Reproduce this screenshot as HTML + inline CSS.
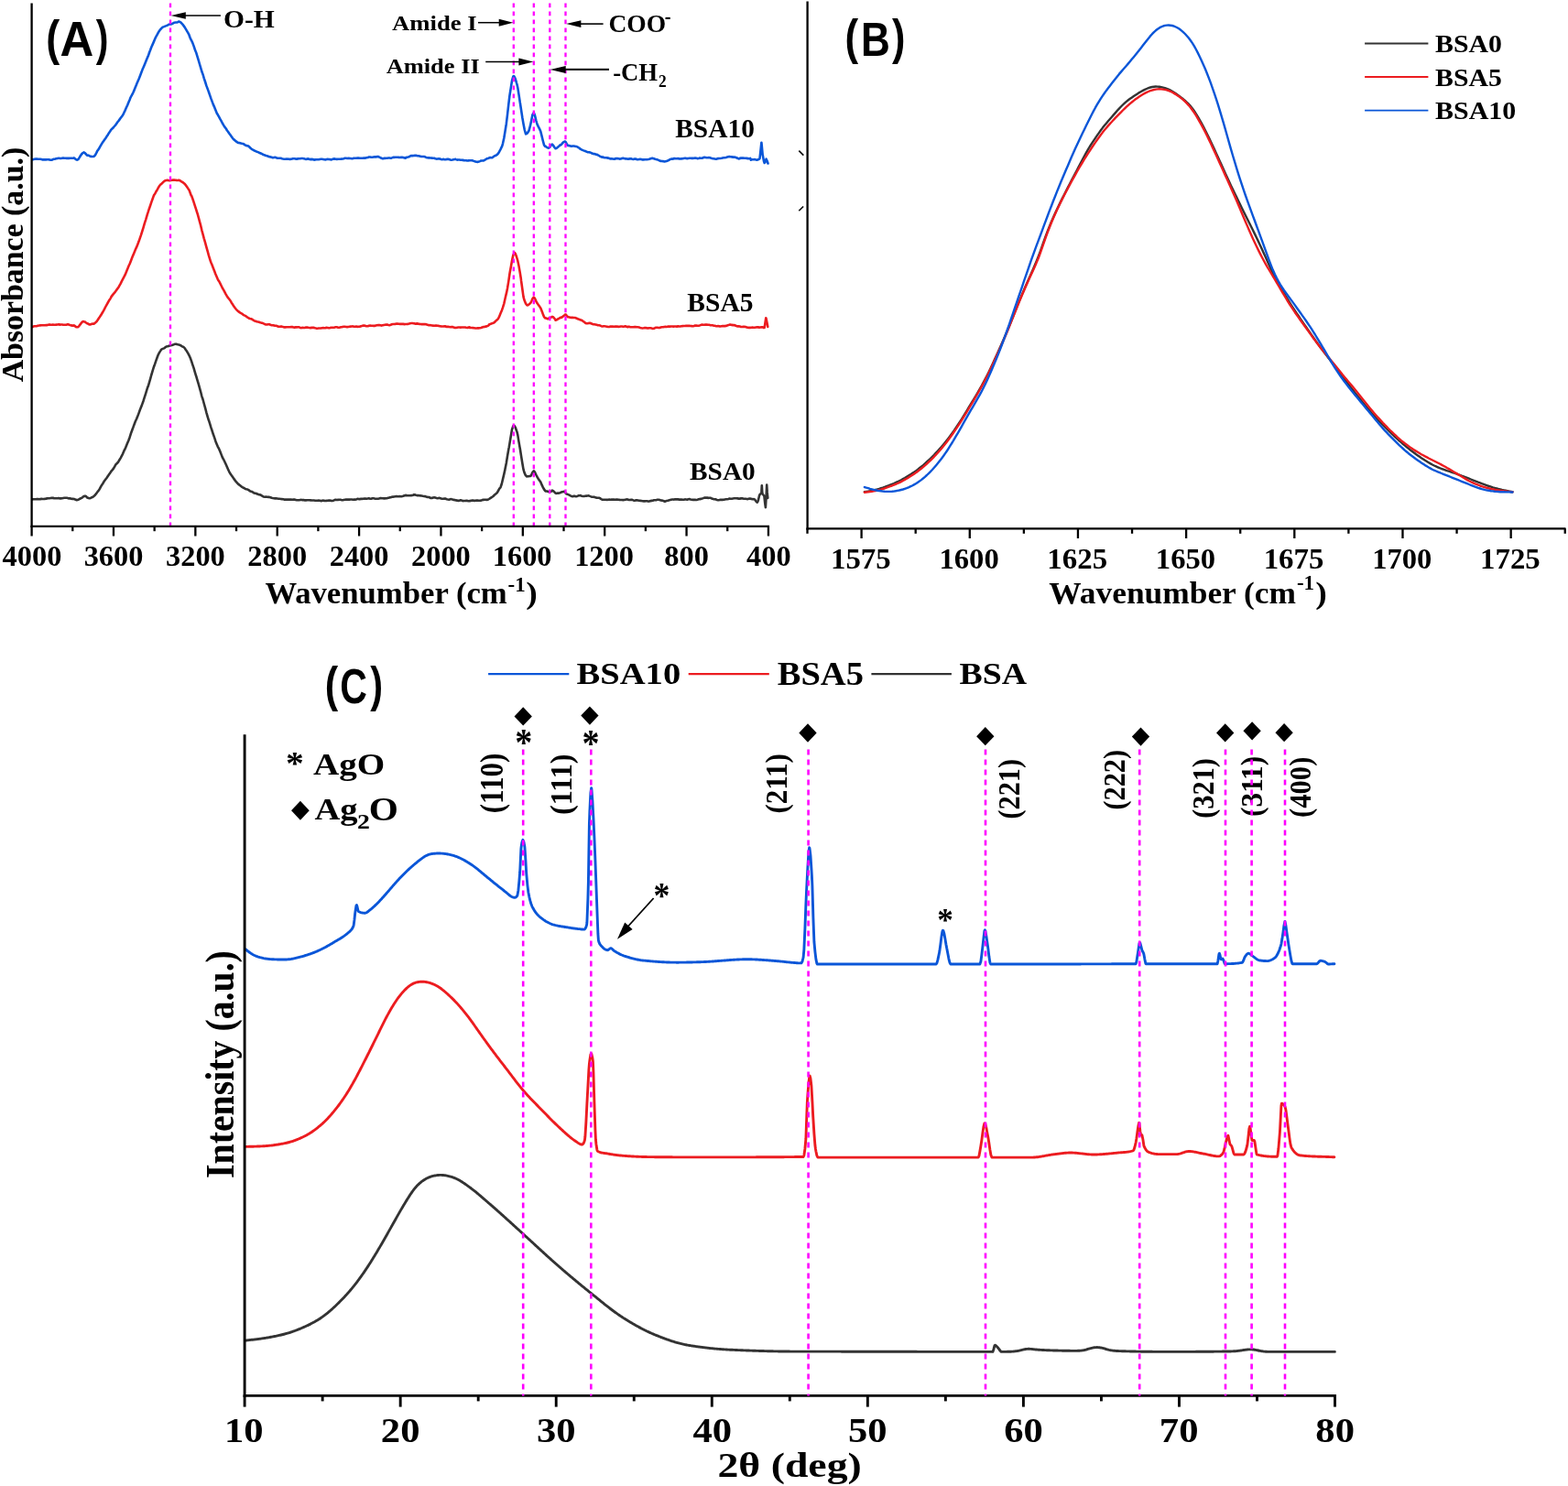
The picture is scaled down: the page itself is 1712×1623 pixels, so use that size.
<!DOCTYPE html>
<html><head><meta charset="utf-8"><title>FTIR and XRD</title>
<style>html,body{margin:0;padding:0;background:#fff;}svg{display:block;}</style></head><body>
<svg width="1712" height="1623" viewBox="0 0 1712 1623">
<rect width="1712" height="1623" fill="#fff"/>
<path d="M35.3,545.4 36.5,545.3 37.8,545.2 39.0,545.2 40.3,545.0 41.5,545.1 42.8,545.3 44.0,545.1 45.3,544.9 46.5,545.0 47.8,545.0 49.0,544.9 50.3,544.6 51.5,544.4 52.8,544.3 54.0,544.2 55.3,544.0 56.5,543.8 57.8,543.9 59.0,544.1 60.3,544.2 61.5,544.2 62.8,544.2 64.0,544.0 65.0,544.2 65.3,544.4 66.5,544.4 67.8,544.2 69.0,544.0 70.3,543.8 71.5,543.8 72.8,543.8 74.0,544.1 75.3,544.4 76.5,544.3 77.8,544.7 79.0,544.9 80.3,544.9 80.8,545.0 81.5,545.3 82.8,545.9 84.0,546.1 84.3,545.9 85.3,545.7 86.5,545.2 87.8,544.5 89.0,543.9 90.3,543.1 91.5,542.1 92.8,541.7 93.1,541.7 94.0,542.2 95.3,543.6 96.5,544.0 96.6,543.9 97.8,544.2 99.0,543.9 100.3,543.2 101.5,542.7 101.8,542.5 102.8,541.7 104.0,540.5 105.3,538.9 106.5,537.1 107.1,536.4 107.8,535.7 109.0,533.6 110.3,531.1 111.5,529.2 112.4,528.0 112.8,527.1 114.0,525.2 115.3,523.5 116.5,522.0 117.8,520.1 119.0,518.2 120.3,516.4 121.1,515.3 121.5,514.6 122.8,513.1 124.0,511.6 125.3,509.3 126.5,507.2 127.8,506.0 129.1,504.6 129.9,503.2 130.3,502.5 131.6,500.3 132.8,498.1 134.1,495.6 135.3,492.7 136.6,490.1 136.9,489.6 137.8,487.3 139.1,484.1 140.3,481.2 141.6,477.7 142.8,473.8 144.1,470.3 145.3,467.0 145.6,466.1 146.6,463.5 147.8,460.3 149.1,457.5 150.3,454.6 151.6,451.1 152.8,447.7 154.1,444.6 154.4,443.8 155.3,441.4 156.6,437.7 157.8,433.8 159.1,429.8 160.3,425.9 161.4,422.4 161.6,422.3 162.8,418.4 164.1,413.9 165.3,409.5 166.6,405.2 167.8,401.2 168.4,399.5 169.1,397.7 170.3,394.1 171.6,390.5 172.8,387.3 174.1,384.9 175.3,383.1 175.4,382.6 176.6,381.4 177.8,380.9 179.1,380.4 180.3,379.4 181.6,378.6 182.8,378.3 184.1,377.9 184.2,377.9 185.3,377.6 186.6,377.3 187.8,377.0 189.1,376.6 190.3,376.1 191.6,375.8 192.8,375.8 193.0,376.0 194.1,376.3 195.3,376.5 196.6,376.9 197.8,377.6 199.1,378.5 200.0,378.8 200.3,378.9 201.6,380.1 202.8,382.0 204.1,383.8 205.3,385.9 206.6,388.3 207.0,389.2 207.8,391.0 209.1,394.6 210.3,398.3 211.6,402.1 212.8,406.3 214.0,410.3 214.1,410.4 215.3,414.6 216.6,418.9 217.8,423.1 219.1,427.8 220.3,432.6 221.0,434.8 221.6,436.5 222.8,441.0 224.1,445.6 225.3,450.3 226.6,454.8 227.8,458.8 228.0,459.2 229.1,462.7 230.3,466.7 231.6,470.5 232.8,474.3 234.1,477.9 235.0,480.6 235.3,481.7 236.6,484.9 237.8,487.8 239.1,490.2 240.3,493.0 241.6,496.4 242.8,499.4 243.8,501.4 244.1,501.7 245.3,504.2 246.6,507.0 247.8,509.8 249.1,512.7 250.3,515.3 251.6,517.5 252.5,518.9 252.8,519.2 254.1,521.0 255.3,522.9 256.6,524.6 257.8,526.2 259.1,527.6 260.3,528.9 261.3,529.6 261.6,529.7 262.8,530.7 264.1,531.8 265.3,532.5 266.6,533.2 267.8,533.9 269.1,534.3 270.3,534.6 271.6,535.2 272.8,536.2 274.1,536.7 275.3,537.1 276.6,538.0 277.8,538.6 279.1,538.7 280.3,539.2 281.6,539.8 282.8,540.2 284.1,540.4 285.3,541.0 286.6,541.9 287.8,542.5 289.1,542.7 290.3,542.6 291.6,542.8 292.8,542.9 294.1,542.9 295.3,543.2 296.6,543.7 297.8,544.0 299.1,544.2 300.3,544.4 301.6,544.4 302.8,544.5 304.1,544.7 305.3,544.8 306.6,545.0 307.8,545.1 309.1,545.2 310.3,545.5 310.4,545.6 311.6,545.5 312.8,545.6 314.1,545.6 315.3,545.6 316.6,545.6 317.8,545.6 319.1,545.7 320.3,545.6 321.6,545.6 322.8,545.9 324.1,546.2 325.3,546.3 326.6,546.2 327.8,546.0 329.1,545.9 330.0,546.1 330.3,546.1 331.6,546.1 332.8,546.4 334.1,546.4 335.3,546.3 336.6,546.3 337.8,546.3 339.1,546.4 340.3,546.5 341.6,546.5 342.8,546.5 344.1,546.7 345.3,546.8 346.3,546.8 346.6,546.7 347.8,546.6 349.1,546.8 350.3,547.1 351.6,546.9 352.8,546.6 354.1,546.9 355.3,547.0 356.6,546.9 357.8,546.8 359.1,546.5 360.3,546.6 361.6,546.9 362.8,547.0 364.1,546.7 365.3,546.1 366.6,545.8 367.8,546.0 369.1,545.9 370.3,545.8 371.6,545.8 372.8,546.1 374.1,546.2 375.3,546.0 376.6,545.8 377.8,545.6 379.1,545.6 380.3,545.6 381.6,545.6 382.8,545.5 384.1,545.5 385.3,545.7 386.6,545.6 387.8,545.6 389.1,545.5 390.1,544.9 390.3,544.8 391.6,545.1 392.8,545.1 394.1,544.9 395.3,544.9 396.6,544.8 397.8,544.6 399.1,544.6 400.3,544.7 401.6,544.5 402.8,544.3 404.1,544.7 405.3,544.7 406.6,544.2 407.8,544.3 409.1,544.6 410.3,544.7 411.6,544.7 412.8,544.7 414.1,544.4 415.3,544.1 416.4,544.1 416.6,544.3 417.8,544.3 419.1,544.4 420.3,544.4 421.6,544.3 422.8,544.1 424.1,543.7 425.3,543.4 426.6,543.2 427.8,542.8 429.1,542.6 430.3,542.5 431.6,542.2 432.8,542.1 434.1,542.3 435.3,542.2 436.6,542.1 437.8,542.2 439.1,542.1 440.3,541.8 441.6,541.2 442.8,540.9 444.1,541.1 445.3,541.2 446.6,541.2 447.8,541.2 449.1,541.1 450.3,541.0 451.4,540.8 451.6,540.4 452.8,540.2 454.1,540.7 455.3,541.1 456.6,541.0 457.8,541.3 459.1,541.4 460.3,541.5 461.6,541.8 462.8,542.0 464.1,542.1 465.3,542.5 466.6,542.9 467.8,543.0 468.9,543.1 469.1,543.5 470.3,544.0 471.6,543.9 472.8,543.5 474.1,543.4 475.3,543.5 476.6,543.9 477.8,544.2 479.1,543.9 480.3,544.0 481.6,544.5 482.8,544.8 484.1,544.7 485.3,544.6 486.5,544.5 486.6,544.7 487.8,545.2 489.1,545.5 490.3,545.7 491.6,545.3 492.8,545.1 494.1,545.6 495.3,545.9 496.6,546.1 497.8,546.4 499.1,546.6 500.3,546.9 501.6,546.7 502.8,546.3 504.1,546.6 505.3,547.1 506.6,547.0 507.8,547.0 509.1,546.9 510.3,546.9 511.6,547.3 512.7,547.3 512.8,547.1 514.0,546.9 515.3,546.6 516.5,546.6 517.8,546.9 519.0,546.7 520.3,546.5 521.5,546.6 522.8,546.7 524.0,546.8 525.3,546.6 526.5,546.1 527.8,545.9 529.0,545.8 530.3,545.8 531.5,545.9 532.8,545.7 534.0,545.0 535.3,544.1 536.5,543.3 537.8,542.5 539.0,541.6 539.0,541.4 540.3,540.2 541.5,539.3 542.8,538.1 544.0,536.0 545.3,533.7 546.0,532.9 546.5,532.2 547.8,528.5 549.0,523.4 550.3,517.9 551.3,513.4 551.5,512.3 552.8,505.7 554.0,498.2 555.3,490.8 555.7,488.8 556.5,484.1 557.8,476.2 559.0,469.2 560.3,465.4 560.9,465.0 561.5,464.9 562.8,467.0 564.0,470.5 564.4,471.4 565.3,475.1 566.5,482.6 567.8,490.1 567.9,490.5 569.0,497.6 570.3,505.8 571.5,512.7 572.3,515.5 572.8,516.9 574.0,519.3 575.3,520.4 575.8,520.3 576.5,520.3 577.8,520.1 579.0,519.8 579.3,519.9 580.3,518.6 581.5,515.8 582.8,514.3 584.0,515.7 585.3,518.5 586.3,520.4 586.5,520.9 587.8,523.0 589.0,524.7 590.3,526.6 590.7,527.5 591.5,529.4 592.8,532.1 594.0,534.4 595.3,536.1 596.0,536.5 596.5,536.5 597.8,536.6 599.0,537.1 600.3,537.2 600.4,537.0 601.5,536.8 602.8,536.1 603.0,535.7 604.0,536.1 605.3,537.4 606.5,538.6 607.4,538.9 607.8,538.7 609.0,538.6 610.3,538.6 611.5,538.2 612.8,537.6 614.0,537.2 615.3,536.9 616.1,536.7 616.5,537.1 617.8,538.8 618.6,539.5 619.0,539.6 620.3,540.1 621.5,540.6 622.8,541.3 624.0,541.9 625.3,542.2 625.8,542.0 626.5,541.7 627.8,541.9 629.0,542.2 630.3,541.9 631.5,541.4 632.8,541.2 634.0,541.1 634.3,541.4 635.3,541.7 636.5,542.0 637.8,542.0 639.0,541.8 640.3,541.6 641.5,541.5 642.8,541.4 644.0,541.9 645.3,542.4 646.5,542.7 647.8,542.7 649.0,542.9 650.1,543.3 650.3,543.4 651.5,543.6 652.8,543.7 654.0,543.8 655.3,544.3 656.5,545.1 657.8,545.8 659.0,545.8 660.1,545.8 660.3,545.8 661.5,545.8 662.8,545.9 664.0,545.8 665.3,545.6 666.5,545.7 667.8,545.6 669.0,545.5 670.3,545.6 671.5,545.7 672.8,545.6 674.0,545.6 675.3,545.7 676.5,545.9 677.8,546.0 679.0,546.0 680.3,546.1 681.5,546.0 682.8,545.7 684.0,545.4 685.3,545.5 685.9,545.8 686.5,545.9 687.8,546.0 689.0,545.9 690.3,545.9 691.5,546.4 692.8,546.7 694.0,546.4 695.3,546.2 696.5,546.5 697.8,546.8 699.0,546.9 700.3,547.0 701.5,547.3 702.8,547.4 704.0,547.4 705.3,547.3 706.5,547.3 707.3,547.5 707.8,547.6 709.0,547.5 710.3,547.1 711.5,546.9 712.8,546.7 714.0,546.3 715.3,546.2 716.5,546.1 717.3,546.0 717.8,545.7 719.0,545.8 720.3,546.1 721.5,546.5 722.8,546.6 724.0,546.9 725.3,547.5 725.9,547.8 726.5,547.5 727.8,547.1 729.0,546.8 730.3,546.4 731.5,546.1 732.8,545.7 734.0,545.5 735.3,545.5 735.9,545.6 736.5,545.4 737.8,545.4 739.0,545.4 740.3,545.4 741.5,545.6 742.8,545.6 744.0,545.6 745.3,545.8 746.5,545.7 747.8,545.4 749.0,545.5 750.3,545.7 751.5,545.3 752.8,545.1 754.0,545.5 755.3,545.8 756.5,545.9 757.4,545.9 757.8,545.9 759.0,545.9 760.3,546.0 761.5,545.7 762.8,545.3 764.0,545.1 765.3,544.9 766.5,544.6 767.8,544.1 769.0,543.6 770.3,543.6 771.5,543.6 772.8,543.6 773.2,543.9 774.0,543.8 775.3,543.7 776.5,544.1 777.8,544.8 779.0,545.1 780.3,545.2 781.5,545.4 782.8,546.0 784.0,546.2 785.3,546.1 786.0,545.9 786.5,545.8 787.8,545.9 789.0,545.9 790.3,545.8 791.5,545.5 792.8,545.3 794.0,545.2 795.3,545.0 796.5,544.6 797.8,544.7 799.0,544.7 800.3,544.5 801.5,544.3 802.8,544.3 804.0,544.3 805.3,544.4 806.5,544.6 807.8,544.6 809.0,544.4 810.3,544.3 811.5,544.6 812.8,544.7 814.0,544.7 815.3,545.0 816.5,545.1 817.8,544.6 819.0,544.5 820.3,544.9 821.5,545.1 822.8,545.2 823.2,545.0 824.0,545.5 825.3,547.3 826.5,548.6 826.9,548.6 827.8,546.7 829.0,541.5 829.5,540.3 830.3,539.6 831.4,538.3 831.5,535.6 831.8,530.2 832.3,538.2 832.8,539.7 834.0,541.2 834.4,541.8 835.3,550.0 835.9,554.2 836.5,543.8 836.7,540.5 837.2,529.6 837.7,537.9 837.8,539.1 838.3,543.9" fill="none" stroke="#333333" stroke-width="2.6" stroke-linejoin="round" stroke-linecap="round"/>
<path d="M35.3,357.1 36.5,356.5 37.8,356.3 39.0,356.3 40.3,356.1 41.5,355.7 42.8,355.5 44.0,355.4 45.3,355.3 46.5,355.2 47.8,355.2 49.0,355.2 50.3,355.1 51.5,355.1 52.8,354.7 54.0,354.4 55.3,354.8 56.5,354.8 57.8,354.6 59.0,354.7 60.3,354.8 61.5,354.6 62.8,354.5 64.0,354.4 65.0,354.4 65.3,354.6 66.5,354.5 67.8,354.5 69.0,354.7 70.3,354.7 71.5,354.8 72.8,354.6 74.0,354.2 75.3,354.6 76.5,355.1 77.8,355.4 79.0,355.6 80.3,355.6 80.8,355.4 81.5,355.8 82.8,357.0 83.4,357.1 84.0,357.2 85.3,357.1 86.5,355.8 87.8,354.1 89.0,352.5 90.3,351.3 91.3,351.1 91.5,351.2 92.8,351.6 94.0,352.5 95.3,353.3 96.5,353.8 96.6,354.0 97.8,354.4 99.0,354.4 100.3,353.8 101.5,353.5 101.8,353.7 102.8,353.6 104.0,352.6 105.3,351.4 106.5,349.8 107.8,347.8 108.9,346.1 109.0,346.0 110.3,344.1 111.5,342.0 112.8,339.8 114.0,337.7 114.1,337.3 115.3,335.0 116.5,332.8 117.8,330.5 119.0,328.3 120.3,326.4 121.1,325.1 121.5,324.1 122.8,322.4 124.0,320.9 125.3,319.4 126.5,317.8 127.8,315.9 129.1,314.2 129.9,312.9 130.3,312.1 131.6,309.9 132.8,307.4 134.1,304.9 135.3,302.6 136.6,300.2 136.9,299.4 137.8,297.2 139.1,294.1 140.3,291.0 141.6,288.3 142.8,285.2 144.1,281.8 145.3,278.8 145.6,278.2 146.6,275.7 147.8,272.7 149.1,269.9 150.3,266.9 151.6,263.6 152.8,260.1 154.1,256.4 154.4,255.3 155.3,252.5 156.6,248.3 157.8,244.1 159.1,240.1 160.3,236.1 161.4,232.4 161.6,231.9 162.8,228.2 164.1,224.5 165.3,220.9 166.6,217.3 167.8,213.9 168.4,212.7 169.1,211.8 170.3,209.5 171.6,207.3 172.8,205.1 174.1,203.0 175.3,201.5 175.4,201.6 176.6,200.5 177.8,199.3 179.1,198.1 180.3,197.2 181.6,196.9 182.4,196.7 182.8,196.8 184.1,197.1 185.3,197.2 186.6,197.0 187.8,196.8 189.1,196.6 190.3,196.6 191.6,196.7 192.8,196.9 194.1,197.0 194.7,196.9 195.3,196.7 196.6,197.2 197.8,198.1 199.1,198.9 200.3,199.7 201.6,200.8 201.7,201.0 202.8,202.2 204.1,204.1 205.3,205.9 206.6,207.8 207.8,211.0 208.7,213.5 209.1,213.8 210.3,217.0 211.6,220.8 212.8,224.7 214.1,228.7 215.3,232.5 215.7,233.7 216.6,236.8 217.8,241.3 219.1,246.1 220.3,251.3 221.6,256.2 222.7,260.3 222.8,260.6 224.1,265.2 225.3,269.7 226.6,274.2 227.8,278.7 229.1,282.8 229.8,285.0 230.3,286.4 231.6,289.5 232.8,292.7 234.1,296.0 235.3,299.2 236.6,302.2 237.8,305.1 238.5,306.4 239.1,307.0 240.3,309.4 241.6,312.0 242.8,314.5 244.1,316.6 245.3,318.9 246.6,321.3 247.8,323.4 249.0,325.3 249.1,325.3 250.3,326.8 251.6,328.5 252.8,330.7 254.1,332.6 255.3,334.5 256.6,336.3 257.8,337.8 259.1,339.1 259.5,339.5 260.3,340.1 261.6,341.1 262.8,341.9 264.1,342.6 265.3,343.6 266.6,344.4 267.8,344.9 269.1,345.8 270.3,346.7 271.6,347.5 272.8,348.0 274.1,348.2 275.3,348.7 276.6,349.7 277.8,350.4 279.1,350.7 280.3,351.2 281.6,351.5 282.8,351.8 284.1,352.3 285.3,352.6 286.6,352.8 287.8,353.4 289.1,354.0 290.3,354.5 291.6,354.5 292.8,354.2 294.1,354.3 295.3,354.8 296.6,355.2 297.8,355.2 299.1,355.4 300.3,355.7 301.6,355.8 302.8,356.2 304.1,356.7 305.3,356.7 306.6,356.6 307.8,356.6 309.1,357.1 310.3,357.4 310.4,357.4 311.6,357.4 312.8,357.2 314.1,357.2 315.3,357.3 316.6,357.2 317.8,357.1 319.1,357.1 320.3,357.5 321.6,357.6 322.8,357.4 324.1,357.4 325.3,357.2 326.6,357.3 327.8,358.0 329.1,358.1 330.0,357.9 330.3,357.8 331.6,358.0 332.8,358.0 334.1,357.6 335.3,357.5 336.6,357.8 337.8,358.0 339.1,358.1 340.3,357.9 341.6,357.7 342.8,357.9 344.1,358.3 345.3,358.6 346.3,358.7 346.6,358.7 347.8,358.5 349.1,358.5 350.3,358.5 351.6,358.2 352.8,358.1 354.1,358.2 355.3,358.1 356.6,357.9 357.8,358.0 359.1,358.3 360.3,358.1 361.6,357.8 362.8,357.8 364.1,357.8 365.3,357.6 366.6,357.3 367.8,357.3 369.1,357.7 370.3,357.7 371.6,357.4 372.8,357.3 374.1,357.0 375.3,356.7 376.6,356.8 377.8,357.0 379.1,357.1 380.3,357.0 381.6,356.8 382.8,356.6 384.1,356.5 385.3,356.4 386.6,356.7 387.8,356.8 389.1,356.5 390.1,356.7 390.3,356.9 391.6,356.7 392.8,356.6 394.1,356.4 395.3,355.9 396.6,355.6 397.8,355.5 399.1,355.9 400.3,356.3 401.6,356.2 402.8,355.7 404.1,355.6 405.3,355.8 406.6,355.7 407.8,355.9 409.1,355.9 410.3,355.5 411.6,355.2 412.8,355.1 414.1,355.0 415.3,355.3 416.4,355.6 416.6,355.6 417.8,355.3 419.1,355.0 420.3,354.8 421.6,354.6 422.8,354.6 424.1,355.0 425.3,355.2 426.6,354.8 427.8,354.3 429.1,354.0 430.3,354.0 431.6,353.9 432.8,353.6 434.1,353.6 435.3,353.8 436.6,353.9 437.8,353.9 439.1,353.8 440.3,353.9 441.6,354.1 442.8,354.0 444.1,354.0 445.3,353.9 446.6,353.6 447.8,353.2 449.1,353.0 450.3,353.0 451.6,353.3 452.8,353.4 453.2,353.6 454.1,353.6 455.3,353.4 456.6,353.6 457.8,353.9 459.1,354.0 460.3,354.1 461.6,354.1 462.8,354.0 464.1,354.1 465.3,354.3 466.6,354.7 467.8,355.1 468.9,355.2 469.1,355.0 470.3,355.2 471.6,355.5 472.8,355.6 474.1,355.7 475.3,355.6 476.6,355.5 477.8,355.7 479.1,355.9 480.3,356.2 481.6,356.4 482.8,356.5 484.1,356.5 485.3,356.4 486.5,356.4 486.6,356.7 487.8,356.9 489.1,356.8 490.3,357.0 491.6,357.2 492.8,357.1 494.1,357.1 495.3,357.5 496.6,357.9 497.8,358.0 499.1,357.7 500.3,357.5 501.6,357.5 502.8,357.6 504.1,357.5 505.3,357.5 506.6,357.5 507.8,357.5 509.1,357.8 510.3,358.0 511.6,357.5 512.7,357.4 512.8,357.9 514.0,358.0 515.3,358.0 516.5,358.1 517.8,358.3 519.0,358.5 520.3,358.5 521.5,358.4 522.8,358.4 523.3,358.3 524.0,358.2 525.3,358.0 526.5,357.5 527.8,357.1 529.0,357.0 530.3,356.6 531.5,356.4 532.8,355.9 533.8,355.0 534.0,354.5 535.3,353.9 536.5,353.5 537.8,353.1 539.0,352.6 540.3,351.6 541.5,350.3 542.5,349.3 542.8,349.4 544.0,348.0 545.3,345.4 546.5,342.3 547.8,339.2 549.0,335.9 550.3,331.6 551.5,326.3 552.8,320.6 553.0,320.0 554.0,315.0 555.3,307.1 556.5,298.8 557.4,293.8 557.8,291.7 559.0,284.8 560.3,278.7 561.5,275.9 561.5,275.7 562.8,277.1 564.0,280.5 565.3,284.9 566.5,290.6 567.8,298.0 568.8,304.3 569.0,306.2 570.3,315.5 571.5,324.1 572.3,327.2 572.8,328.5 574.0,331.5 575.3,333.2 575.8,333.4 576.5,333.2 577.8,332.3 579.0,331.1 579.3,330.8 580.3,329.1 581.5,326.2 582.8,324.7 584.0,326.0 585.3,328.9 586.3,330.9 586.5,331.1 587.8,332.9 589.0,334.6 589.8,335.8 590.3,336.6 591.5,339.5 592.8,343.0 594.0,346.0 595.1,347.3 595.3,347.2 596.5,347.6 597.8,348.2 598.6,348.1 599.0,347.8 600.3,347.2 601.5,346.6 602.8,346.2 603.0,345.9 604.0,346.2 605.3,347.8 606.5,349.3 606.5,349.8 607.8,349.3 609.0,348.5 610.3,347.8 611.5,347.0 612.6,346.6 612.8,347.0 614.0,346.2 615.3,345.1 616.5,344.2 617.0,343.5 617.8,343.6 619.0,345.3 620.0,346.2 620.3,346.1 621.5,346.4 622.8,346.7 624.0,346.9 625.3,346.9 626.5,347.0 627.8,347.0 628.6,347.2 629.0,347.5 630.3,348.0 631.5,348.6 632.8,349.0 634.0,349.4 634.3,349.5 635.3,349.9 636.5,350.8 637.8,351.7 638.6,352.2 639.0,352.7 640.3,353.2 641.5,353.2 642.8,352.9 644.0,352.9 645.3,353.1 646.5,353.8 647.8,354.2 649.0,354.3 650.1,354.5 650.3,354.5 651.5,354.8 652.8,355.2 654.0,355.3 655.3,355.6 656.5,356.2 657.8,356.5 659.0,356.2 660.1,356.2 660.3,356.3 661.5,356.5 662.8,356.7 664.0,357.0 665.3,357.0 666.5,356.6 667.8,356.5 669.0,356.6 670.3,356.7 671.5,356.6 672.8,356.6 674.0,356.6 675.3,356.9 676.5,356.8 677.8,356.5 679.0,356.5 680.3,356.8 681.5,356.6 682.8,356.3 684.0,356.8 685.3,357.2 685.9,356.8 686.5,356.7 687.8,357.1 689.0,357.2 690.3,357.3 691.5,357.3 692.8,357.1 694.0,357.1 695.3,357.2 696.5,357.3 697.8,357.5 699.0,357.9 700.3,358.3 701.5,358.5 702.8,358.3 704.0,358.0 705.3,358.1 706.5,358.4 707.3,358.5 707.8,358.4 709.0,358.2 710.3,358.2 711.5,358.6 712.8,359.0 714.0,358.8 715.3,358.1 716.5,357.7 717.8,357.8 719.0,358.0 720.3,358.0 721.5,357.5 722.8,357.3 724.0,357.3 725.3,357.0 726.5,356.8 727.8,357.0 728.8,356.8 729.0,356.6 730.3,356.6 731.5,356.6 732.8,356.5 734.0,356.5 735.3,356.6 736.5,356.5 737.8,356.5 739.0,356.6 740.3,356.4 741.5,356.5 742.8,356.5 744.0,356.3 745.3,356.1 746.5,356.0 747.8,356.0 749.0,355.9 750.3,355.8 751.5,355.9 752.8,355.9 754.0,356.0 755.3,356.1 756.5,356.2 757.4,356.1 757.8,356.0 759.0,355.6 760.3,355.5 761.5,355.7 762.8,355.7 764.0,355.4 765.3,354.9 766.5,354.6 767.8,354.7 769.0,354.8 770.3,354.6 771.5,354.5 772.8,354.8 773.2,354.7 774.0,354.7 775.3,355.1 776.5,355.2 777.8,355.3 779.0,355.6 780.3,355.8 781.5,356.1 782.8,356.2 784.0,356.1 785.3,356.2 786.0,356.5 786.5,356.5 787.8,356.3 789.0,356.1 790.3,356.0 791.5,356.1 792.8,355.9 794.0,355.5 795.3,355.1 796.5,354.6 797.5,354.6 797.8,354.7 799.0,354.9 800.3,355.1 801.5,355.0 802.8,355.5 804.0,356.1 805.3,356.4 806.5,356.3 807.8,356.6 809.0,357.0 810.3,357.0 811.5,356.9 812.8,356.9 814.0,357.0 815.3,357.4 816.5,357.8 817.5,357.9 817.8,357.9 819.0,357.9 820.3,357.7 821.5,357.5 822.8,357.7 824.0,357.8 825.3,357.5 826.5,357.3 827.8,357.4 829.0,357.6 830.3,357.5 831.5,357.2 832.8,357.4 834.0,358.0 834.6,358.0 835.3,353.8 836.3,347.3 836.5,347.7 837.3,351.7 837.8,354.3 838.3,356.9" fill="none" stroke="#ec1c20" stroke-width="2.6" stroke-linejoin="round" stroke-linecap="round"/>
<path d="M35.3,174.2 36.5,174.1 37.8,173.8 39.0,173.6 40.3,173.6 41.5,173.8 42.8,173.7 44.0,173.8 45.3,174.1 46.5,174.4 47.8,174.4 49.0,174.3 50.3,174.4 51.5,174.3 52.8,174.2 54.0,174.4 55.3,174.7 56.5,174.7 57.8,174.1 59.0,173.7 60.3,173.6 61.5,173.3 62.8,173.0 64.0,172.8 65.0,172.8 65.3,173.0 66.5,173.0 67.8,172.7 69.0,172.5 70.3,172.7 71.5,172.8 72.8,172.9 74.0,172.9 75.3,172.9 76.5,172.8 77.8,172.8 79.0,172.7 80.3,172.5 80.8,172.4 81.5,173.0 82.8,174.1 84.0,174.7 84.3,174.7 85.3,174.2 86.5,172.4 87.8,170.3 89.0,168.5 90.3,167.1 91.3,166.6 91.5,166.4 92.8,167.1 94.0,168.6 95.3,169.7 96.5,169.8 96.6,169.7 97.8,170.3 99.0,170.9 100.3,171.0 101.5,171.0 101.8,170.9 102.8,170.7 104.0,169.3 105.3,166.9 106.5,164.4 107.1,163.8 107.8,162.8 109.0,160.6 110.3,158.4 111.5,156.4 112.4,155.0 112.8,154.5 114.0,152.7 115.3,151.0 116.5,149.1 117.8,147.2 119.0,145.2 119.4,144.6 120.3,143.3 121.5,141.4 122.8,140.3 124.0,139.0 125.3,137.5 126.5,136.1 127.8,134.3 128.1,133.6 129.1,132.5 130.3,130.9 131.6,129.1 132.8,127.5 134.1,125.7 135.1,123.8 135.3,123.3 136.6,120.6 137.8,117.8 139.1,115.0 140.3,112.0 141.6,109.0 142.1,107.6 142.8,106.0 144.1,103.6 145.3,101.3 146.6,98.4 147.8,95.2 149.1,92.2 149.2,91.8 150.3,89.3 151.6,86.3 152.8,83.2 154.1,79.8 155.3,76.6 156.2,74.3 156.6,73.6 157.8,70.7 159.1,67.6 160.3,64.6 161.6,61.6 162.8,58.3 163.2,57.0 164.1,54.8 165.3,51.5 166.6,48.6 167.8,45.9 169.1,42.8 170.2,40.3 170.3,40.2 171.6,37.9 172.8,35.6 174.1,33.5 175.3,32.0 176.6,30.7 177.2,30.0 177.8,29.6 179.1,29.1 180.3,28.6 181.6,28.1 182.8,27.6 184.1,26.9 185.3,26.3 186.0,26.3 186.6,26.5 187.8,26.1 189.1,25.3 190.3,24.7 191.6,24.5 192.8,24.5 194.1,24.2 194.7,23.8 195.3,23.6 196.6,24.0 197.8,24.9 199.1,26.3 200.0,27.4 200.3,27.9 201.6,29.6 202.8,31.6 204.1,33.8 205.3,35.9 206.6,38.3 207.0,39.8 207.8,41.9 209.1,44.3 210.3,46.9 211.6,50.4 212.8,54.0 214.0,57.1 214.1,57.2 215.3,61.1 216.6,65.3 217.8,69.5 219.1,73.8 220.3,78.0 221.0,79.9 221.6,81.5 222.8,85.6 224.1,89.5 225.3,93.4 226.6,96.9 227.8,100.1 228.0,100.8 229.1,103.9 230.3,107.4 231.6,110.9 232.8,114.1 234.1,116.9 235.3,119.9 236.6,123.2 236.8,123.7 237.8,125.3 239.1,127.6 240.3,129.9 241.6,132.2 242.8,134.5 244.1,136.7 245.3,138.6 246.6,140.2 247.3,141.3 247.8,142.3 249.1,144.0 250.3,145.8 251.6,147.6 252.8,149.3 254.1,151.1 255.3,152.4 256.6,153.4 257.8,154.4 259.1,155.4 260.3,156.0 261.6,156.1 262.8,156.4 264.1,156.8 265.3,157.0 266.6,157.4 266.6,157.8 267.8,158.5 269.1,159.1 270.3,159.3 271.6,159.8 272.8,161.0 274.1,162.3 275.3,163.2 276.6,163.9 277.8,164.5 279.1,165.1 280.3,165.7 281.6,166.1 282.3,166.4 282.8,166.7 284.1,167.2 285.3,167.7 286.6,168.5 287.8,169.0 289.1,169.4 290.3,170.0 291.6,170.3 292.8,170.7 294.1,171.2 295.3,171.4 296.6,171.8 297.8,172.2 298.1,172.2 299.1,172.0 300.3,171.8 301.6,172.2 302.8,172.8 304.1,172.8 305.3,172.7 306.6,172.8 307.8,173.2 309.1,173.5 310.3,173.7 311.6,173.7 312.8,173.6 313.9,173.7 314.1,173.6 315.3,173.7 316.6,173.9 317.8,173.7 319.1,173.4 320.3,173.3 321.6,173.3 322.8,173.6 324.1,173.6 325.3,173.4 326.6,173.2 327.8,173.2 329.1,173.0 330.0,173.0 330.3,173.0 331.6,173.2 332.8,173.6 334.1,173.9 335.3,173.6 336.6,173.4 337.8,173.9 339.1,174.1 340.3,173.9 341.6,174.1 342.8,174.5 342.9,174.6 344.1,174.4 345.3,174.2 346.6,174.2 347.8,174.3 349.1,174.0 350.3,173.8 351.6,173.8 352.8,174.0 354.1,174.3 355.3,174.4 356.6,174.0 357.8,173.9 359.1,174.0 360.3,174.1 361.6,174.4 362.1,174.3 362.8,173.9 364.1,173.6 365.3,173.4 366.6,173.7 367.8,173.9 369.1,173.7 370.3,173.7 371.6,173.7 372.8,173.6 374.1,173.5 375.3,173.2 376.6,172.8 377.8,172.8 379.1,173.0 380.3,172.9 381.4,172.9 381.6,173.0 382.8,173.0 384.1,173.2 385.3,173.1 386.6,172.7 387.8,172.7 389.1,172.8 390.3,172.6 391.6,172.5 392.8,172.7 394.1,172.7 395.3,172.7 396.6,172.7 396.8,172.6 397.8,172.6 399.1,172.6 400.3,172.3 401.6,172.0 402.0,171.9 402.8,171.5 404.1,171.5 405.3,171.8 406.6,171.7 407.8,171.5 409.1,171.3 410.3,171.4 411.0,171.4 411.6,171.1 412.8,171.0 414.1,171.6 415.3,172.2 416.6,172.8 417.8,173.2 418.7,173.1 419.1,172.9 420.3,172.9 421.6,172.8 422.8,172.7 424.1,172.5 425.3,172.5 426.6,172.8 427.8,172.4 429.1,171.9 430.3,171.9 431.6,171.8 432.8,171.7 434.1,171.8 435.3,171.9 436.6,172.0 437.8,171.9 439.1,171.8 440.3,172.0 441.6,172.4 442.8,172.6 443.1,172.2 444.1,171.8 445.3,171.6 446.6,171.3 447.8,170.5 449.1,170.1 450.3,170.1 450.8,170.1 451.6,170.0 452.8,169.9 454.1,169.8 455.3,170.1 456.6,170.2 457.8,170.4 459.1,170.7 459.8,170.9 460.3,171.0 461.6,171.0 462.8,171.0 464.1,171.3 465.3,171.9 466.6,172.3 467.8,172.4 468.8,172.3 469.1,172.4 470.3,172.5 471.6,172.6 472.8,172.7 474.1,172.8 475.3,173.3 476.6,173.6 477.8,173.5 479.1,173.4 480.3,173.5 481.6,174.0 482.8,174.2 484.1,173.8 484.2,173.9 485.3,174.3 486.6,174.2 487.8,173.9 489.1,173.7 490.3,174.0 491.6,174.5 492.8,174.7 494.1,174.5 495.3,174.2 496.6,174.0 497.1,173.8 497.8,174.1 499.1,174.6 500.3,174.5 501.6,174.5 502.8,174.7 504.1,174.7 505.3,174.9 506.6,175.1 507.8,175.2 509.1,175.3 510.0,175.5 510.3,175.5 511.6,175.4 512.8,175.3 514.0,175.2 515.3,175.2 516.5,175.6 517.8,176.1 519.0,176.4 520.3,176.7 521.5,176.9 522.8,176.6 524.0,176.1 525.3,175.5 526.5,175.5 527.8,175.5 529.0,174.9 530.3,174.2 530.5,174.0 531.5,173.3 532.8,172.9 534.0,172.5 535.3,172.1 536.5,172.2 537.0,172.3 537.8,171.8 539.0,171.0 540.3,170.2 540.8,170.1 541.5,169.8 542.8,168.9 544.0,167.6 544.5,166.8 545.3,165.3 546.5,163.1 547.8,160.4 548.2,159.6 549.0,156.8 550.3,150.8 551.5,143.5 552.8,135.2 553.0,133.7 554.0,125.3 555.3,113.9 556.5,103.8 556.6,103.5 557.8,95.9 559.0,88.2 560.3,83.5 560.9,83.0 561.5,83.5 562.8,86.3 564.0,90.6 564.4,91.9 565.3,95.7 566.5,103.4 567.8,112.0 567.9,112.5 569.0,119.7 570.3,128.3 571.5,135.2 571.5,135.2 572.8,142.0 574.0,146.1 574.1,146.4 575.3,145.9 576.5,144.4 577.6,142.5 577.8,141.6 579.0,137.2 580.3,130.9 581.5,125.1 582.8,123.1 584.0,126.1 585.3,131.5 586.3,135.0 586.5,135.7 587.8,138.3 589.0,140.7 589.8,142.3 590.3,143.6 591.5,148.4 592.8,153.7 594.0,158.2 595.1,159.9 595.3,159.6 596.5,160.5 597.8,161.3 598.6,161.6 599.0,161.6 600.3,160.7 601.5,158.9 602.8,157.6 603.0,157.7 604.0,158.8 605.3,160.9 606.5,162.1 606.5,162.2 607.8,161.7 609.0,160.8 610.3,159.6 611.5,158.4 611.7,158.7 612.8,158.0 614.0,156.5 615.3,155.1 616.5,154.6 617.0,154.5 617.8,155.2 619.0,157.7 620.0,158.8 620.3,159.0 621.5,159.1 622.8,159.4 624.0,159.8 625.3,159.5 626.5,159.5 627.8,159.8 629.0,160.0 629.0,159.9 630.3,160.4 631.5,161.1 632.8,161.8 632.9,162.1 634.0,162.9 635.3,163.6 636.5,164.1 637.8,164.6 639.0,165.1 639.3,165.1 640.3,165.6 641.5,166.2 642.8,166.3 644.0,166.4 645.3,166.9 646.5,167.6 647.8,168.0 649.0,168.1 650.3,168.5 651.5,168.9 652.1,168.9 652.8,169.3 654.0,170.0 655.3,170.8 656.5,171.4 657.8,171.6 658.6,171.6 659.0,171.9 660.3,172.2 661.5,172.3 662.8,172.4 664.0,172.6 665.3,173.0 666.5,173.4 667.8,173.4 669.0,173.5 670.3,173.8 671.4,173.7 671.5,173.3 672.8,173.1 674.0,173.0 675.3,173.2 676.5,173.6 677.8,173.5 679.0,173.1 680.3,172.7 681.5,173.1 682.8,173.4 684.0,173.4 684.3,173.5 685.3,173.6 686.5,173.6 687.8,173.4 689.0,173.3 690.3,173.7 691.5,174.0 692.8,173.6 694.0,173.5 695.3,174.2 696.5,174.3 697.8,174.0 699.0,173.9 700.3,174.0 701.5,174.4 702.8,174.4 703.5,174.2 704.0,174.2 705.3,174.2 706.5,174.2 707.8,174.0 709.0,173.7 710.3,173.2 711.5,172.9 712.5,172.9 712.8,172.9 714.0,173.3 715.3,173.8 716.5,174.1 717.8,174.3 719.0,174.9 720.3,175.5 721.5,175.9 722.8,176.0 724.0,176.1 725.3,176.4 725.4,176.5 726.5,176.2 727.8,175.9 729.0,175.6 730.3,174.9 731.5,174.1 732.8,173.6 734.0,173.6 735.3,173.4 735.7,173.1 736.5,173.1 737.8,173.3 739.0,173.2 740.3,173.0 741.5,173.4 742.8,173.5 744.0,173.4 745.3,173.3 746.5,173.0 747.8,172.8 748.5,172.8 749.0,173.0 750.3,173.1 751.5,173.0 752.8,172.7 754.0,172.7 755.3,172.9 756.5,172.9 757.8,172.7 759.0,172.5 760.3,172.7 761.4,173.0 761.5,173.2 762.8,173.0 764.0,172.6 765.3,172.7 766.5,172.7 767.8,172.2 769.0,171.8 770.3,172.0 771.5,172.3 772.8,172.2 774.0,172.0 774.2,172.1 775.3,172.3 776.5,172.7 777.8,173.1 779.0,173.3 780.3,173.5 781.5,173.7 782.0,173.8 782.8,173.5 784.0,173.1 785.3,173.0 786.5,173.0 787.8,172.8 789.0,172.5 790.3,172.3 791.5,172.2 792.8,172.0 794.0,171.6 795.3,171.3 796.1,171.1 796.5,171.1 797.8,171.2 799.0,171.4 800.3,171.6 801.5,171.5 802.8,171.8 804.0,172.2 805.3,172.8 806.5,173.4 807.7,173.2 807.8,172.8 809.0,172.6 810.3,172.6 811.5,172.6 812.8,172.7 814.0,172.8 815.3,172.9 816.5,173.1 817.8,173.3 819.0,173.2 819.2,172.9 819.9,174.7 820.3,174.5 821.5,174.3 822.8,174.2 824.0,174.1 825.3,174.4 826.5,174.7 827.8,174.3 829.0,173.7 829.5,173.2 830.3,166.1 831.4,155.7 831.5,156.3 832.7,169.3 832.8,169.5 834.0,176.1 834.7,178.0 835.3,177.2 836.5,173.9 836.6,173.7 837.8,176.4 838.5,178.5" fill="none" stroke="#0a56d8" stroke-width="2.6" stroke-linejoin="round" stroke-linecap="round"/>
<line x1="186.00" y1="3.50" x2="186.00" y2="574.80" stroke="#ff00ff" stroke-width="2.3" stroke-dasharray="4.8 4.2"/>
<line x1="560.80" y1="3.50" x2="560.80" y2="574.80" stroke="#ff00ff" stroke-width="2.3" stroke-dasharray="4.8 4.2"/>
<line x1="582.80" y1="3.50" x2="582.80" y2="574.80" stroke="#ff00ff" stroke-width="2.3" stroke-dasharray="4.8 4.2"/>
<line x1="600.30" y1="3.50" x2="600.30" y2="574.80" stroke="#ff00ff" stroke-width="2.3" stroke-dasharray="4.8 4.2"/>
<line x1="617.50" y1="3.50" x2="617.50" y2="574.80" stroke="#ff00ff" stroke-width="2.3" stroke-dasharray="4.8 4.2"/>
<line x1="34.60" y1="3.50" x2="34.60" y2="575.90" stroke="#000" stroke-width="2.3" />
<line x1="33.50" y1="574.80" x2="840.00" y2="574.80" stroke="#000" stroke-width="2.3" />
<line x1="34.60" y1="574.80" x2="34.60" y2="585.50" stroke="#000" stroke-width="2.3" />
<line x1="79.28" y1="574.80" x2="79.28" y2="580.20" stroke="#000" stroke-width="2.3" />
<line x1="123.97" y1="574.80" x2="123.97" y2="585.50" stroke="#000" stroke-width="2.3" />
<line x1="168.65" y1="574.80" x2="168.65" y2="580.20" stroke="#000" stroke-width="2.3" />
<line x1="213.34" y1="574.80" x2="213.34" y2="585.50" stroke="#000" stroke-width="2.3" />
<line x1="258.02" y1="574.80" x2="258.02" y2="580.20" stroke="#000" stroke-width="2.3" />
<line x1="302.71" y1="574.80" x2="302.71" y2="585.50" stroke="#000" stroke-width="2.3" />
<line x1="347.39" y1="574.80" x2="347.39" y2="580.20" stroke="#000" stroke-width="2.3" />
<line x1="392.08" y1="574.80" x2="392.08" y2="585.50" stroke="#000" stroke-width="2.3" />
<line x1="436.76" y1="574.80" x2="436.76" y2="580.20" stroke="#000" stroke-width="2.3" />
<line x1="481.45" y1="574.80" x2="481.45" y2="585.50" stroke="#000" stroke-width="2.3" />
<line x1="526.13" y1="574.80" x2="526.13" y2="580.20" stroke="#000" stroke-width="2.3" />
<line x1="570.82" y1="574.80" x2="570.82" y2="585.50" stroke="#000" stroke-width="2.3" />
<line x1="615.50" y1="574.80" x2="615.50" y2="580.20" stroke="#000" stroke-width="2.3" />
<line x1="660.19" y1="574.80" x2="660.19" y2="585.50" stroke="#000" stroke-width="2.3" />
<line x1="704.87" y1="574.80" x2="704.87" y2="580.20" stroke="#000" stroke-width="2.3" />
<line x1="749.56" y1="574.80" x2="749.56" y2="585.50" stroke="#000" stroke-width="2.3" />
<line x1="794.24" y1="574.80" x2="794.24" y2="580.20" stroke="#000" stroke-width="2.3" />
<line x1="838.93" y1="574.80" x2="838.93" y2="585.50" stroke="#000" stroke-width="2.3" />
<text font-family="'Liberation Serif', 'Times New Roman', serif" font-weight="bold" font-size="30.52" fill="#000" transform="matrix(1.0613,0,0,1,2.61,617.89)">4000</text>
<text font-family="'Liberation Serif', 'Times New Roman', serif" font-weight="bold" font-size="30.52" fill="#000" transform="matrix(1.0613,0,0,1,91.66,617.89)">3600</text>
<text font-family="'Liberation Serif', 'Times New Roman', serif" font-weight="bold" font-size="30.52" fill="#000" transform="matrix(1.0613,0,0,1,181.03,617.89)">3200</text>
<text font-family="'Liberation Serif', 'Times New Roman', serif" font-weight="bold" font-size="30.52" fill="#000" transform="matrix(1.0613,0,0,1,270.32,617.89)">2800</text>
<text font-family="'Liberation Serif', 'Times New Roman', serif" font-weight="bold" font-size="30.52" fill="#000" transform="matrix(1.0613,0,0,1,359.69,617.89)">2400</text>
<text font-family="'Liberation Serif', 'Times New Roman', serif" font-weight="bold" font-size="30.52" fill="#000" transform="matrix(1.0613,0,0,1,449.06,617.89)">2000</text>
<text font-family="'Liberation Serif', 'Times New Roman', serif" font-weight="bold" font-size="30.52" fill="#000" transform="matrix(1.0613,0,0,1,537.78,617.89)">1600</text>
<text font-family="'Liberation Serif', 'Times New Roman', serif" font-weight="bold" font-size="30.52" fill="#000" transform="matrix(1.0613,0,0,1,627.15,617.89)">1200</text>
<text font-family="'Liberation Serif', 'Times New Roman', serif" font-weight="bold" font-size="30.52" fill="#000" transform="matrix(1.0613,0,0,1,725.35,617.89)">800</text>
<text font-family="'Liberation Serif', 'Times New Roman', serif" font-weight="bold" font-size="30.52" fill="#000" transform="matrix(1.0613,0,0,1,815.04,617.89)">400</text>
<text font-family="'Liberation Serif', 'Times New Roman', serif" font-weight="bold" font-size="33.41" fill="#000" transform="matrix(1.0391,0,0,1,289.38,659.12)">Wavenumber (cm</text>
<text font-family="'Liberation Serif', 'Times New Roman', serif" font-weight="bold" font-size="23.33" fill="#000" transform="matrix(0.9829,0,0,1,554.50,645.70)">-1</text>
<text font-family="'Liberation Serif', 'Times New Roman', serif" font-weight="bold" font-size="33.41" fill="#000" transform="matrix(1.1283,0,0,1,574.17,659.12)">)</text>
<text font-family="'Liberation Serif', 'Times New Roman', serif" font-weight="bold" font-size="34.18" fill="#000" transform="matrix(0,-0.9897,1,0,24.65,417.34)">Absorbance (a.u.)</text>
<text font-family="'Liberation Sans', Arial, sans-serif" font-weight="bold" font-size="53.48" fill="#000" transform="matrix(0.8415,0,0,1,50.25,59.57)">(</text>
<text font-family="'Liberation Sans', Arial, sans-serif" font-weight="bold" font-size="53.19" fill="#000" transform="matrix(0.9569,0,0,1,65.43,60.80)">A</text>
<text font-family="'Liberation Sans', Arial, sans-serif" font-weight="bold" font-size="53.48" fill="#000" transform="matrix(0.7677,0,0,1,104.80,59.57)">)</text>
<text font-family="'Liberation Serif', 'Times New Roman', serif" font-weight="bold" font-size="27.91" fill="#000" transform="matrix(1.0591,0,0,1,244.02,29.92)">O-H</text>
<text font-family="'Liberation Serif', 'Times New Roman', serif" font-weight="bold" font-size="23.40" fill="#000" transform="matrix(1.1398,0,0,1,428.03,33.17)">Amide I</text>
<text font-family="'Liberation Serif', 'Times New Roman', serif" font-weight="bold" font-size="23.83" fill="#000" transform="matrix(1.1099,0,0,1,421.64,80.16)">Amide II</text>
<text font-family="'Liberation Serif', 'Times New Roman', serif" font-weight="bold" font-size="28.06" fill="#000" transform="matrix(0.9809,0,0,1,664.42,34.92)">COO</text>
<text font-family="'Liberation Serif', 'Times New Roman', serif" font-weight="bold" font-size="25.88" fill="#000" transform="matrix(0.7876,0,0,1,725.69,25.75)">-</text>
<text font-family="'Liberation Serif', 'Times New Roman', serif" font-weight="bold" font-size="27.46" fill="#000" transform="matrix(0.9717,0,0,1,669.17,87.83)">-CH</text>
<text font-family="'Liberation Serif', 'Times New Roman', serif" font-weight="bold" font-size="19.09" fill="#000" transform="matrix(0.9104,0,0,1,719.00,95.20)">2</text>
<text font-family="'Liberation Serif', 'Times New Roman', serif" font-weight="bold" font-size="28.59" fill="#000" transform="matrix(1.0286,0,0,1,737.26,149.61)">BSA10</text>
<text font-family="'Liberation Serif', 'Times New Roman', serif" font-weight="bold" font-size="28.81" fill="#000" transform="matrix(1.0233,0,0,1,750.36,339.61)">BSA5</text>
<text font-family="'Liberation Serif', 'Times New Roman', serif" font-weight="bold" font-size="28.30" fill="#000" transform="matrix(1.0366,0,0,1,753.06,524.12)">BSA0</text>
<line x1="240.90" y1="17.00" x2="200.00" y2="17.00" stroke="#000" stroke-width="1.5" />
<polygon points="186.60,17.00 202.80,13.20 202.80,20.80" fill="#000"/>
<line x1="522.00" y1="24.70" x2="546.00" y2="24.70" stroke="#000" stroke-width="1.5" />
<polygon points="560.30,24.70 544.70,20.70 544.70,28.70" fill="#000"/>
<line x1="530.20" y1="67.50" x2="568.00" y2="67.50" stroke="#000" stroke-width="1.5" />
<polygon points="582.30,67.50 566.40,63.40 566.40,71.40" fill="#000"/>
<line x1="658.60" y1="26.10" x2="633.00" y2="26.10" stroke="#000" stroke-width="1.6" />
<polygon points="618.20,26.10 634.40,22.20 634.40,30.00" fill="#000"/>
<line x1="665.00" y1="75.90" x2="616.00" y2="75.90" stroke="#222" stroke-width="2.1" />
<polygon points="600.70,75.90 617.70,72.10 617.70,79.90" fill="#000"/>
<path d="M943.9,537.2 945.9,536.9 947.9,536.6 949.9,536.3 951.9,535.9 953.9,535.5 955.9,535.0 957.9,534.5 959.9,533.9 961.9,533.2 963.9,532.6 965.9,531.9 967.9,531.1 969.9,530.4 971.9,529.6 973.9,528.8 975.9,528.0 977.9,527.1 979.9,526.2 981.9,525.2 983.9,524.2 985.9,523.1 987.9,522.0 989.9,520.8 991.9,519.6 993.9,518.4 995.9,517.1 997.9,515.8 999.9,514.4 1001.9,512.9 1003.9,511.3 1005.9,509.7 1007.9,508.1 1009.9,506.3 1011.9,504.5 1013.9,502.7 1015.9,500.8 1017.9,498.8 1019.9,496.8 1021.9,494.7 1023.9,492.6 1025.9,490.3 1027.9,488.1 1029.9,485.7 1031.9,483.3 1033.9,480.8 1035.9,478.2 1037.9,475.5 1039.9,472.8 1041.9,470.0 1043.9,467.0 1045.9,464.0 1047.9,460.9 1049.9,457.8 1051.9,454.5 1053.9,451.3 1055.9,448.0 1057.9,444.7 1059.9,441.4 1061.9,438.1 1063.9,434.8 1065.9,431.5 1067.9,428.1 1069.9,424.6 1071.9,421.1 1073.9,417.4 1075.9,413.6 1077.9,409.7 1079.9,405.7 1081.9,401.5 1083.9,397.2 1085.9,392.8 1087.9,388.4 1089.9,384.0 1091.9,379.5 1093.9,375.0 1095.9,370.5 1097.9,365.8 1099.9,361.1 1101.9,356.2 1103.9,351.2 1105.9,346.2 1107.9,341.2 1109.9,336.2 1111.9,331.2 1113.9,326.4 1115.9,321.6 1117.9,316.9 1119.9,312.3 1121.9,307.7 1123.9,303.2 1125.9,298.7 1127.9,294.2 1129.9,289.6 1131.9,284.8 1133.9,279.7 1135.9,274.3 1137.9,268.6 1139.9,263.0 1141.9,257.5 1143.9,252.3 1145.9,247.2 1147.9,242.3 1149.9,237.7 1151.9,233.2 1153.9,228.9 1155.9,224.7 1157.9,220.6 1159.9,216.6 1161.9,212.7 1163.9,208.7 1165.9,204.8 1167.9,201.0 1169.9,197.1 1171.9,193.3 1173.9,189.5 1175.9,185.7 1177.9,181.9 1179.9,178.1 1181.9,174.3 1183.9,170.6 1185.9,166.9 1187.9,163.4 1189.9,160.0 1191.9,156.9 1193.9,153.8 1195.9,150.8 1197.9,147.9 1199.9,145.1 1201.9,142.3 1203.9,139.6 1205.9,137.1 1207.9,134.7 1209.9,132.3 1211.9,130.0 1213.9,127.7 1215.9,125.4 1217.9,123.1 1219.9,120.8 1221.9,118.6 1223.9,116.5 1225.9,114.5 1227.9,112.6 1229.9,110.9 1231.9,109.3 1233.9,107.8 1235.9,106.4 1237.9,105.0 1239.9,103.7 1241.9,102.4 1243.9,101.1 1245.9,100.0 1247.9,98.9 1249.9,97.9 1251.9,97.0 1253.9,96.2 1255.9,95.5 1257.9,95.0 1259.9,94.7 1261.9,94.5 1263.9,94.6 1265.9,94.8 1267.9,95.1 1269.9,95.6 1271.9,96.1 1273.9,96.9 1275.9,97.7 1277.9,98.6 1279.9,99.7 1281.9,101.0 1283.9,102.3 1285.9,103.7 1287.9,105.2 1289.9,106.7 1291.9,108.3 1293.9,110.0 1295.9,111.8 1297.9,113.7 1299.9,115.9 1301.9,118.4 1303.9,121.2 1305.9,124.3 1307.9,127.6 1309.9,131.1 1311.9,134.7 1313.9,138.4 1315.9,142.3 1317.9,146.2 1319.9,150.3 1321.9,154.5 1323.9,158.8 1325.9,163.1 1327.9,167.5 1329.9,171.8 1331.9,176.2 1333.9,180.6 1335.9,185.0 1337.9,189.4 1339.9,193.8 1341.9,198.1 1343.9,202.4 1345.9,206.6 1347.9,210.8 1349.9,214.9 1351.9,219.0 1353.9,223.1 1355.9,227.2 1357.9,231.2 1359.9,235.3 1361.9,239.3 1363.9,243.3 1365.9,247.3 1367.9,251.3 1369.9,255.4 1371.9,259.5 1373.9,263.6 1375.9,267.9 1377.9,272.3 1379.9,276.7 1381.9,281.1 1383.9,285.6 1385.9,290.1 1387.9,294.5 1389.9,298.7 1391.9,302.6 1393.9,306.3 1395.9,309.9 1397.9,313.3 1399.9,316.8 1401.9,320.2 1403.9,323.5 1405.9,326.9 1407.9,330.2 1409.9,333.4 1411.9,336.5 1413.9,339.5 1415.9,342.4 1417.9,345.3 1419.9,348.3 1421.9,351.2 1423.9,354.1 1425.9,357.0 1427.9,359.9 1429.9,362.8 1431.9,365.6 1433.9,368.5 1435.9,371.4 1437.9,374.2 1439.9,376.9 1441.9,379.7 1443.9,382.3 1445.9,385.0 1447.9,387.6 1449.9,390.2 1451.9,392.8 1453.9,395.5 1455.9,398.1 1457.9,400.7 1459.9,403.3 1461.9,406.0 1463.9,408.6 1465.9,411.3 1467.9,413.9 1469.9,416.6 1471.9,419.2 1473.9,421.9 1475.9,424.5 1477.9,427.1 1479.9,429.7 1481.9,432.2 1483.9,434.6 1485.9,437.1 1487.9,439.5 1489.9,441.9 1491.9,444.3 1493.9,446.7 1495.9,449.0 1497.9,451.4 1499.9,453.7 1501.9,455.9 1503.9,458.0 1505.9,460.1 1507.9,462.1 1509.9,464.2 1511.9,466.2 1513.9,468.2 1515.9,470.1 1517.9,472.1 1519.9,474.1 1521.9,476.0 1523.9,477.8 1525.9,479.7 1527.9,481.5 1529.9,483.2 1531.9,485.0 1533.9,486.6 1535.9,488.3 1537.9,489.9 1539.9,491.5 1541.9,493.0 1543.9,494.5 1545.9,496.0 1547.9,497.4 1549.9,498.8 1551.9,500.2 1553.9,501.5 1555.9,502.8 1557.9,504.0 1559.9,505.2 1561.9,506.4 1563.9,507.5 1565.9,508.5 1567.9,509.4 1569.9,510.3 1571.9,511.2 1573.9,512.0 1575.9,512.7 1577.9,513.4 1579.9,514.1 1581.9,514.7 1583.9,515.4 1585.9,516.0 1587.9,516.7 1589.9,517.4 1591.9,518.1 1593.9,518.8 1595.9,519.6 1597.9,520.3 1599.9,521.1 1601.9,521.9 1603.9,522.7 1605.9,523.5 1607.9,524.3 1609.9,525.1 1611.9,525.9 1613.9,526.7 1615.9,527.4 1617.9,528.2 1619.9,528.9 1621.9,529.6 1623.9,530.3 1625.9,531.0 1627.9,531.6 1629.9,532.3 1631.9,532.9 1633.9,533.4 1635.9,534.0 1637.9,534.5 1639.9,535.0 1641.9,535.4 1643.9,535.8 1645.9,536.2 1647.9,536.6 1649.9,537.0 1651.4,537.3" fill="none" stroke="#333333" stroke-width="2.4" stroke-linejoin="round" stroke-linecap="round"/>
<path d="M943.9,537.7 945.9,537.5 947.9,537.3 949.9,537.0 951.9,536.8 953.9,536.4 955.9,536.0 957.9,535.6 959.9,535.1 961.9,534.6 963.9,534.0 965.9,533.3 967.9,532.6 969.9,531.9 971.9,531.2 973.9,530.5 975.9,529.7 977.9,528.8 979.9,528.0 981.9,527.1 983.9,526.1 985.9,525.0 987.9,523.9 989.9,522.8 991.9,521.6 993.9,520.3 995.9,519.0 997.9,517.7 999.9,516.3 1001.9,514.9 1003.9,513.3 1005.9,511.7 1007.9,510.1 1009.9,508.4 1011.9,506.6 1013.9,504.7 1015.9,502.8 1017.9,500.8 1019.9,498.8 1021.9,496.6 1023.9,494.5 1025.9,492.2 1027.9,489.9 1029.9,487.5 1031.9,485.0 1033.9,482.4 1035.9,479.7 1037.9,477.0 1039.9,474.2 1041.9,471.3 1043.9,468.4 1045.9,465.4 1047.9,462.3 1049.9,459.1 1051.9,455.9 1053.9,452.6 1055.9,449.3 1057.9,446.0 1059.9,442.6 1061.9,439.3 1063.9,435.9 1065.9,432.5 1067.9,429.0 1069.9,425.5 1071.9,421.9 1073.9,418.2 1075.9,414.4 1077.9,410.5 1079.9,406.5 1081.9,402.3 1083.9,398.0 1085.9,393.6 1087.9,389.1 1089.9,384.7 1091.9,380.2 1093.9,375.7 1095.9,371.1 1097.9,366.5 1099.9,361.7 1101.9,356.8 1103.9,351.8 1105.9,346.8 1107.9,341.8 1109.9,336.8 1111.9,331.9 1113.9,327.1 1115.9,322.3 1117.9,317.7 1119.9,313.1 1121.9,308.6 1123.9,304.1 1125.9,299.8 1127.9,295.5 1129.9,291.1 1131.9,286.4 1133.9,281.5 1135.9,276.1 1137.9,270.4 1139.9,264.6 1141.9,258.9 1143.9,253.4 1145.9,248.2 1147.9,243.3 1149.9,238.5 1151.9,234.0 1153.9,229.6 1155.9,225.4 1157.9,221.3 1159.9,217.3 1161.9,213.3 1163.9,209.5 1165.9,205.7 1167.9,202.0 1169.9,198.3 1171.9,194.7 1173.9,191.1 1175.9,187.5 1177.9,184.0 1179.9,180.6 1181.9,177.3 1183.9,174.0 1185.9,170.8 1187.9,167.7 1189.9,164.6 1191.9,161.5 1193.9,158.5 1195.9,155.6 1197.9,152.7 1199.9,150.0 1201.9,147.3 1203.9,144.6 1205.9,142.1 1207.9,139.7 1209.9,137.4 1211.9,135.1 1213.9,133.0 1215.9,130.8 1217.9,128.7 1219.9,126.6 1221.9,124.6 1223.9,122.6 1225.9,120.5 1227.9,118.6 1229.9,116.7 1231.9,114.9 1233.9,113.1 1235.9,111.5 1237.9,109.9 1239.9,108.3 1241.9,106.9 1243.9,105.5 1245.9,104.2 1247.9,103.0 1249.9,101.9 1251.9,100.9 1253.9,100.0 1255.9,99.2 1257.9,98.6 1259.9,98.0 1261.9,97.6 1263.9,97.4 1265.9,97.3 1267.9,97.4 1269.9,97.6 1271.9,97.9 1273.9,98.4 1275.9,99.0 1277.9,99.8 1279.9,100.8 1281.9,101.9 1283.9,103.1 1285.9,104.4 1287.9,105.8 1289.9,107.4 1291.9,109.0 1293.9,110.8 1295.9,112.9 1297.9,115.1 1299.9,117.5 1301.9,120.2 1303.9,123.1 1305.9,126.2 1307.9,129.6 1309.9,133.1 1311.9,136.7 1313.9,140.4 1315.9,144.3 1317.9,148.3 1319.9,152.4 1321.9,156.6 1323.9,160.9 1325.9,165.3 1327.9,169.6 1329.9,174.0 1331.9,178.4 1333.9,182.8 1335.9,187.2 1337.9,191.7 1339.9,196.1 1341.9,200.5 1343.9,204.9 1345.9,209.4 1347.9,213.9 1349.9,218.5 1351.9,223.3 1353.9,228.0 1355.9,232.8 1357.9,237.5 1359.9,242.2 1361.9,246.9 1363.9,251.5 1365.9,256.0 1367.9,260.5 1369.9,264.8 1371.9,269.0 1373.9,273.1 1375.9,277.1 1377.9,281.0 1379.9,284.7 1381.9,288.3 1383.9,291.8 1385.9,295.1 1387.9,298.5 1389.9,301.8 1391.9,305.2 1393.9,308.6 1395.9,312.0 1397.9,315.4 1399.9,318.8 1401.9,322.2 1403.9,325.5 1405.9,328.9 1407.9,332.1 1409.9,335.2 1411.9,338.2 1413.9,341.2 1415.9,344.0 1417.9,346.9 1419.9,349.7 1421.9,352.5 1423.9,355.3 1425.9,358.1 1427.9,360.8 1429.9,363.6 1431.9,366.4 1433.9,369.2 1435.9,371.9 1437.9,374.6 1439.9,377.2 1441.9,379.8 1443.9,382.3 1445.9,384.7 1447.9,387.1 1449.9,389.5 1451.9,392.0 1453.9,394.4 1455.9,396.8 1457.9,399.2 1459.9,401.7 1461.9,404.2 1463.9,406.7 1465.9,409.3 1467.9,411.7 1469.9,414.1 1471.9,416.5 1473.9,418.8 1475.9,421.1 1477.9,423.5 1479.9,425.9 1481.9,428.4 1483.9,430.9 1485.9,433.5 1487.9,436.1 1489.9,438.6 1491.9,441.1 1493.9,443.5 1495.9,445.9 1497.9,448.3 1499.9,450.7 1501.9,453.0 1503.9,455.2 1505.9,457.4 1507.9,459.6 1509.9,461.8 1511.9,463.9 1513.9,465.9 1515.9,468.0 1517.9,470.0 1519.9,471.9 1521.9,473.8 1523.9,475.7 1525.9,477.6 1527.9,479.3 1529.9,481.1 1531.9,482.7 1533.9,484.3 1535.9,485.8 1537.9,487.3 1539.9,488.7 1541.9,490.0 1543.9,491.4 1545.9,492.6 1547.9,493.8 1549.9,495.0 1551.9,496.2 1553.9,497.3 1555.9,498.4 1557.9,499.4 1559.9,500.5 1561.9,501.5 1563.9,502.5 1565.9,503.5 1567.9,504.5 1569.9,505.5 1571.9,506.5 1573.9,507.6 1575.9,508.7 1577.9,509.8 1579.9,511.0 1581.9,512.1 1583.9,513.3 1585.9,514.5 1587.9,515.7 1589.9,516.9 1591.9,518.1 1593.9,519.3 1595.9,520.5 1597.9,521.7 1599.9,522.9 1601.9,524.1 1603.9,525.2 1605.9,526.2 1607.9,527.2 1609.9,528.1 1611.9,528.9 1613.9,529.7 1615.9,530.5 1617.9,531.2 1619.9,531.8 1621.9,532.4 1623.9,533.0 1625.9,533.5 1627.9,534.0 1629.9,534.4 1631.9,534.8 1633.9,535.1 1635.9,535.4 1637.9,535.7 1639.9,535.9 1641.9,536.2 1643.9,536.4 1645.9,536.7 1647.9,536.9 1649.9,537.1 1651.4,537.3" fill="none" stroke="#ec1c20" stroke-width="2.4" stroke-linejoin="round" stroke-linecap="round"/>
<path d="M943.9,532.1 945.9,532.7 947.9,533.2 949.9,533.8 951.9,534.3 953.9,534.8 955.9,535.3 957.9,535.7 959.9,536.0 961.9,536.3 963.9,536.6 965.9,536.8 967.9,536.9 969.9,536.9 971.9,536.9 973.9,536.8 975.9,536.6 977.9,536.3 979.9,535.9 981.9,535.5 983.9,535.0 985.9,534.5 987.9,533.8 989.9,533.1 991.9,532.3 993.9,531.4 995.9,530.5 997.9,529.4 999.9,528.2 1001.9,526.9 1003.9,525.6 1005.9,524.1 1007.9,522.5 1009.9,520.8 1011.9,519.0 1013.9,517.1 1015.9,515.1 1017.9,513.0 1019.9,510.8 1021.9,508.5 1023.9,506.1 1025.9,503.6 1027.9,501.0 1029.9,498.3 1031.9,495.4 1033.9,492.5 1035.9,489.4 1037.9,486.2 1039.9,483.0 1041.9,479.6 1043.9,476.2 1045.9,472.8 1047.9,469.3 1049.9,465.8 1051.9,462.2 1053.9,458.7 1055.9,455.2 1057.9,451.7 1059.9,448.2 1061.9,444.8 1063.9,441.4 1065.9,437.9 1067.9,434.4 1069.9,430.9 1071.9,427.2 1073.9,423.3 1075.9,419.2 1077.9,414.9 1079.9,410.5 1081.9,405.9 1083.9,401.3 1085.9,396.6 1087.9,391.8 1089.9,386.9 1091.9,381.8 1093.9,376.5 1095.9,371.1 1097.9,365.6 1099.9,360.0 1101.9,354.3 1103.9,348.5 1105.9,342.6 1107.9,336.7 1109.9,330.8 1111.9,324.9 1113.9,319.1 1115.9,313.3 1117.9,307.4 1119.9,301.6 1121.9,295.8 1123.9,290.0 1125.9,284.2 1127.9,278.6 1129.9,273.1 1131.9,267.7 1133.9,262.3 1135.9,257.0 1137.9,251.6 1139.9,246.2 1141.9,240.8 1143.9,235.5 1145.9,230.2 1147.9,225.0 1149.9,219.8 1151.9,214.7 1153.9,209.6 1155.9,204.7 1157.9,199.8 1159.9,195.0 1161.9,190.3 1163.9,185.5 1165.9,180.9 1167.9,176.2 1169.9,171.6 1171.9,167.1 1173.9,162.6 1175.9,158.3 1177.9,154.0 1179.9,149.8 1181.9,145.6 1183.9,141.4 1185.9,137.3 1187.9,133.2 1189.9,129.2 1191.9,125.2 1193.9,121.4 1195.9,117.7 1197.9,114.2 1199.9,110.8 1201.9,107.6 1203.9,104.6 1205.9,101.7 1207.9,98.9 1209.9,96.3 1211.9,93.7 1213.9,91.1 1215.9,88.5 1217.9,85.9 1219.9,83.4 1221.9,80.9 1223.9,78.6 1225.9,76.2 1227.9,74.0 1229.9,71.7 1231.9,69.4 1233.9,67.0 1235.9,64.6 1237.9,62.2 1239.9,59.8 1241.9,57.3 1243.9,54.7 1245.9,52.2 1247.9,49.6 1249.9,47.0 1251.9,44.4 1253.9,41.9 1255.9,39.4 1257.9,37.2 1259.9,35.1 1261.9,33.3 1263.9,31.7 1265.9,30.4 1267.9,29.3 1269.9,28.5 1271.9,27.9 1273.9,27.6 1275.9,27.5 1277.9,27.7 1279.9,28.0 1281.9,28.7 1283.9,29.5 1285.9,30.5 1287.9,31.8 1289.9,33.4 1291.9,35.1 1293.9,37.0 1295.9,39.2 1297.9,41.5 1299.9,44.2 1301.9,47.1 1303.9,50.4 1305.9,54.0 1307.9,57.9 1309.9,62.0 1311.9,66.2 1313.9,70.7 1315.9,75.3 1317.9,80.2 1319.9,85.4 1321.9,90.7 1323.9,96.3 1325.9,102.1 1327.9,108.2 1329.9,114.4 1331.9,120.9 1333.9,127.6 1335.9,134.4 1337.9,141.4 1339.9,148.5 1341.9,155.6 1343.9,162.6 1345.9,169.5 1347.9,176.2 1349.9,182.8 1351.9,189.3 1353.9,195.6 1355.9,201.7 1357.9,207.7 1359.9,213.5 1361.9,219.2 1363.9,224.7 1365.9,230.2 1367.9,235.6 1369.9,241.0 1371.9,246.5 1373.9,251.9 1375.9,257.3 1377.9,262.8 1379.9,268.3 1381.9,273.9 1383.9,279.5 1385.9,285.0 1387.9,290.2 1389.9,295.1 1391.9,299.6 1393.9,303.6 1395.9,307.3 1397.9,310.8 1399.9,314.0 1401.9,317.0 1403.9,319.8 1405.9,322.5 1407.9,325.2 1409.9,327.9 1411.9,330.6 1413.9,333.4 1415.9,336.2 1417.9,339.0 1419.9,341.8 1421.9,344.6 1423.9,347.4 1425.9,350.3 1427.9,353.2 1429.9,356.2 1431.9,359.2 1433.9,362.4 1435.9,365.5 1437.9,368.8 1439.9,372.1 1441.9,375.4 1443.9,378.8 1445.9,382.2 1447.9,385.6 1449.9,389.0 1451.9,392.4 1453.9,395.8 1455.9,399.1 1457.9,402.3 1459.9,405.3 1461.9,408.3 1463.9,411.2 1465.9,414.0 1467.9,416.7 1469.9,419.3 1471.9,421.9 1473.9,424.4 1475.9,427.0 1477.9,429.4 1479.9,431.9 1481.9,434.3 1483.9,436.8 1485.9,439.2 1487.9,441.6 1489.9,444.0 1491.9,446.4 1493.9,448.8 1495.9,451.2 1497.9,453.6 1499.9,456.0 1501.9,458.4 1503.9,460.8 1505.9,463.2 1507.9,465.6 1509.9,467.9 1511.9,470.1 1513.9,472.2 1515.9,474.3 1517.9,476.3 1519.9,478.3 1521.9,480.3 1523.9,482.3 1525.9,484.3 1527.9,486.3 1529.9,488.2 1531.9,490.0 1533.9,491.8 1535.9,493.5 1537.9,495.2 1539.9,496.8 1541.9,498.3 1543.9,499.8 1545.9,501.3 1547.9,502.7 1549.9,504.1 1551.9,505.5 1553.9,506.8 1555.9,508.1 1557.9,509.3 1559.9,510.5 1561.9,511.6 1563.9,512.7 1565.9,513.7 1567.9,514.5 1569.9,515.4 1571.9,516.2 1573.9,517.0 1575.9,517.8 1577.9,518.6 1579.9,519.4 1581.9,520.2 1583.9,521.0 1585.9,521.8 1587.9,522.6 1589.9,523.4 1591.9,524.2 1593.9,525.0 1595.9,525.8 1597.9,526.6 1599.9,527.4 1601.9,528.2 1603.9,529.0 1605.9,529.8 1607.9,530.6 1609.9,531.4 1611.9,532.1 1613.9,532.9 1615.9,533.5 1617.9,534.1 1619.9,534.6 1621.9,535.1 1623.9,535.5 1625.9,535.8 1627.9,536.2 1629.9,536.4 1631.9,536.7 1633.9,536.9 1635.9,537.0 1637.9,537.2 1639.9,537.3 1641.9,537.3 1643.9,537.4 1645.9,537.4 1647.9,537.4 1649.9,537.5 1651.4,537.5" fill="none" stroke="#0a56d8" stroke-width="2.4" stroke-linejoin="round" stroke-linecap="round"/>
<line x1="881.60" y1="1.50" x2="881.60" y2="578.40" stroke="#000" stroke-width="2.3" />
<line x1="880.50" y1="577.30" x2="1709.50" y2="577.30" stroke="#000" stroke-width="2.3" />
<line x1="940.60" y1="577.30" x2="940.60" y2="588.00" stroke="#000" stroke-width="2.3" />
<line x1="1058.78" y1="577.30" x2="1058.78" y2="588.00" stroke="#000" stroke-width="2.3" />
<line x1="1176.95" y1="577.30" x2="1176.95" y2="588.00" stroke="#000" stroke-width="2.3" />
<line x1="1295.12" y1="577.30" x2="1295.12" y2="588.00" stroke="#000" stroke-width="2.3" />
<line x1="1413.30" y1="577.30" x2="1413.30" y2="588.00" stroke="#000" stroke-width="2.3" />
<line x1="1531.47" y1="577.30" x2="1531.47" y2="588.00" stroke="#000" stroke-width="2.3" />
<line x1="1649.65" y1="577.30" x2="1649.65" y2="588.00" stroke="#000" stroke-width="2.3" />
<line x1="881.51" y1="577.30" x2="881.51" y2="582.80" stroke="#000" stroke-width="2.3" />
<line x1="999.69" y1="577.30" x2="999.69" y2="582.80" stroke="#000" stroke-width="2.3" />
<line x1="1117.86" y1="577.30" x2="1117.86" y2="582.80" stroke="#000" stroke-width="2.3" />
<line x1="1236.04" y1="577.30" x2="1236.04" y2="582.80" stroke="#000" stroke-width="2.3" />
<line x1="1354.21" y1="577.30" x2="1354.21" y2="582.80" stroke="#000" stroke-width="2.3" />
<line x1="1472.39" y1="577.30" x2="1472.39" y2="582.80" stroke="#000" stroke-width="2.3" />
<line x1="1590.56" y1="577.30" x2="1590.56" y2="582.80" stroke="#000" stroke-width="2.3" />
<line x1="1708.74" y1="577.30" x2="1708.74" y2="582.80" stroke="#000" stroke-width="2.3" />
<text font-family="'Liberation Serif', 'Times New Roman', serif" font-weight="bold" font-size="31.34" fill="#000" transform="matrix(1.0494,0,0,1,906.97,621.19)">1575</text>
<text font-family="'Liberation Serif', 'Times New Roman', serif" font-weight="bold" font-size="31.11" fill="#000" transform="matrix(1.0494,0,0,1,1025.47,621.19)">1600</text>
<text font-family="'Liberation Serif', 'Times New Roman', serif" font-weight="bold" font-size="31.34" fill="#000" transform="matrix(1.0494,0,0,1,1143.32,621.19)">1625</text>
<text font-family="'Liberation Serif', 'Times New Roman', serif" font-weight="bold" font-size="31.11" fill="#000" transform="matrix(1.0494,0,0,1,1261.82,621.19)">1650</text>
<text font-family="'Liberation Serif', 'Times New Roman', serif" font-weight="bold" font-size="31.34" fill="#000" transform="matrix(1.0494,0,0,1,1379.67,621.19)">1675</text>
<text font-family="'Liberation Serif', 'Times New Roman', serif" font-weight="bold" font-size="31.11" fill="#000" transform="matrix(1.0494,0,0,1,1498.17,621.19)">1700</text>
<text font-family="'Liberation Serif', 'Times New Roman', serif" font-weight="bold" font-size="31.34" fill="#000" transform="matrix(1.0494,0,0,1,1616.02,621.19)">1725</text>
<text font-family="'Liberation Serif', 'Times New Roman', serif" font-weight="bold" font-size="34.18" fill="#000" transform="matrix(1.0354,0,0,1,1145.37,658.95)">Wavenumber (cm</text>
<text font-family="'Liberation Serif', 'Times New Roman', serif" font-weight="bold" font-size="22.88" fill="#000" transform="matrix(1.0024,0,0,1,1415.90,644.30)">-1</text>
<text font-family="'Liberation Serif', 'Times New Roman', serif" font-weight="bold" font-size="34.18" fill="#000" transform="matrix(1.1029,0,0,1,1436.27,658.95)">)</text>
<text font-family="'Liberation Sans', Arial, sans-serif" font-weight="bold" font-size="53.37" fill="#000" transform="matrix(0.8231,0,0,1,922.60,59.49)">(</text>
<text font-family="'Liberation Sans', Arial, sans-serif" font-weight="bold" font-size="52.17" fill="#000" transform="matrix(0.8452,0,0,1,940.03,60.50)">B</text>
<text font-family="'Liberation Sans', Arial, sans-serif" font-weight="bold" font-size="53.37" fill="#000" transform="matrix(0.8087,0,0,1,973.90,59.49)">)</text>
<line x1="872.30" y1="164.60" x2="877.30" y2="169.60" stroke="#000" stroke-width="1.6" />
<line x1="872.30" y1="230.30" x2="877.10" y2="225.50" stroke="#000" stroke-width="1.6" />
<line x1="1490.10" y1="47.50" x2="1559.40" y2="47.50" stroke="#333333" stroke-width="1.8" />
<line x1="1490.10" y1="84.00" x2="1559.40" y2="84.00" stroke="#ec1c20" stroke-width="1.8" />
<line x1="1490.10" y1="120.70" x2="1559.40" y2="120.70" stroke="#0a56d8" stroke-width="1.8" />
<text font-family="'Liberation Serif', 'Times New Roman', serif" font-weight="bold" font-size="28.00" fill="#000" transform="matrix(1.0655,0,0,1,1567.05,57.12)">BSA0</text>
<text font-family="'Liberation Serif', 'Times New Roman', serif" font-weight="bold" font-size="28.21" fill="#000" transform="matrix(1.0554,0,0,1,1567.05,93.52)">BSA5</text>
<text font-family="'Liberation Serif', 'Times New Roman', serif" font-weight="bold" font-size="28.00" fill="#000" transform="matrix(1.0690,0,0,1,1567.05,130.32)">BSA10</text>
<path d="M267.90,1464.10 268.90,1463.99 269.90,1463.87 270.90,1463.76 271.90,1463.65 272.90,1463.53 273.90,1463.42 274.90,1463.31 275.90,1463.19 276.90,1463.08 277.90,1462.96 278.90,1462.84 279.90,1462.72 280.90,1462.60 281.90,1462.47 282.90,1462.34 283.90,1462.20 284.90,1462.07 285.90,1461.92 286.40,1461.85 286.90,1461.78 287.90,1461.63 288.90,1461.47 289.90,1461.32 290.90,1461.15 291.90,1460.99 292.90,1460.82 293.90,1460.64 294.90,1460.47 295.90,1460.28 296.90,1460.10 297.90,1459.91 298.90,1459.71 299.90,1459.51 300.90,1459.31 301.90,1459.10 302.90,1458.89 303.90,1458.67 304.90,1458.44 305.90,1458.22 306.90,1457.98 307.90,1457.74 308.90,1457.50 309.90,1457.25 310.90,1456.99 311.90,1456.72 312.65,1456.51 312.90,1456.44 313.90,1456.16 314.90,1455.86 315.90,1455.56 316.90,1455.25 317.90,1454.92 318.90,1454.58 319.90,1454.24 320.90,1453.88 321.90,1453.51 322.90,1453.14 323.90,1452.76 324.90,1452.36 325.90,1451.96 326.90,1451.55 327.90,1451.14 328.90,1450.72 329.90,1450.29 330.90,1449.85 331.90,1449.41 332.90,1448.96 333.65,1448.62 333.90,1448.51 334.90,1448.04 335.90,1447.57 336.90,1447.09 337.90,1446.60 338.90,1446.10 339.90,1445.58 340.90,1445.06 341.90,1444.53 342.90,1443.98 343.90,1443.42 344.90,1442.84 345.90,1442.25 346.90,1441.65 347.90,1441.03 348.90,1440.40 349.90,1439.75 350.90,1439.07 351.15,1438.90 351.90,1438.38 352.90,1437.67 353.90,1436.94 354.90,1436.18 355.90,1435.41 356.90,1434.61 357.90,1433.80 358.90,1432.97 359.90,1432.11 360.90,1431.25 361.90,1430.36 362.90,1429.46 363.90,1428.55 364.90,1427.63 365.90,1426.69 366.90,1425.75 367.90,1424.79 368.65,1424.06 368.90,1423.82 369.90,1422.84 370.90,1421.84 371.90,1420.83 372.90,1419.81 373.90,1418.77 374.90,1417.72 375.90,1416.65 376.90,1415.57 377.90,1414.47 378.90,1413.36 379.90,1412.23 380.90,1411.09 381.90,1409.93 382.90,1408.75 383.90,1407.56 384.90,1406.35 385.90,1405.12 386.15,1404.81 386.90,1403.87 387.90,1402.61 388.90,1401.32 389.90,1400.01 390.90,1398.69 391.90,1397.34 392.90,1395.98 393.90,1394.59 394.90,1393.19 395.90,1391.77 396.90,1390.33 397.90,1388.87 398.90,1387.40 399.90,1385.91 400.15,1385.53 400.90,1384.40 401.90,1382.87 402.90,1381.32 403.90,1379.76 404.90,1378.18 405.90,1376.58 406.90,1374.97 407.90,1373.34 408.90,1371.70 409.90,1370.05 410.90,1368.39 411.90,1366.71 412.90,1365.03 413.90,1363.33 414.15,1362.91 414.90,1361.63 415.90,1359.91 416.90,1358.19 417.90,1356.46 418.90,1354.71 419.90,1352.96 420.90,1351.21 421.90,1349.45 422.90,1347.68 423.90,1345.91 424.90,1344.14 425.90,1342.36 426.90,1340.59 427.90,1338.81 428.15,1338.36 428.90,1337.03 429.90,1335.25 430.90,1333.47 431.90,1331.68 432.90,1329.91 433.90,1328.13 434.90,1326.36 435.90,1324.61 436.90,1322.87 437.90,1321.14 438.90,1319.42 439.90,1317.73 440.90,1316.05 441.90,1314.39 442.15,1313.98 442.90,1312.75 443.90,1311.12 444.90,1309.51 445.90,1307.92 446.90,1306.36 447.90,1304.83 448.90,1303.34 449.90,1301.90 450.90,1300.51 451.90,1299.18 452.90,1297.92 453.90,1296.73 454.90,1295.60 455.90,1294.55 456.15,1294.30 456.90,1293.56 457.90,1292.64 458.90,1291.77 459.90,1290.95 460.90,1290.19 461.90,1289.47 462.90,1288.79 463.90,1288.16 464.90,1287.58 465.90,1287.04 466.90,1286.55 467.90,1286.09 468.90,1285.69 469.90,1285.32 470.40,1285.15 470.90,1284.98 471.90,1284.69 472.90,1284.42 473.90,1284.19 474.90,1283.98 475.90,1283.81 476.90,1283.66 477.90,1283.54 478.90,1283.46 479.90,1283.41 480.90,1283.39 481.90,1283.41 482.90,1283.45 483.90,1283.53 484.90,1283.64 485.90,1283.78 486.90,1283.94 487.90,1284.13 488.90,1284.34 489.90,1284.58 490.90,1284.83 491.90,1285.10 492.90,1285.40 493.90,1285.72 494.90,1286.06 495.90,1286.43 496.90,1286.84 497.90,1287.27 498.90,1287.74 499.90,1288.25 500.90,1288.78 501.90,1289.35 502.90,1289.94 503.90,1290.56 504.90,1291.20 505.90,1291.86 506.90,1292.54 507.90,1293.22 508.90,1293.92 509.90,1294.63 510.90,1295.34 511.90,1296.07 512.40,1296.43 512.90,1296.80 513.90,1297.54 514.90,1298.29 515.90,1299.06 516.90,1299.83 517.90,1300.62 518.90,1301.42 519.90,1302.24 520.90,1303.06 521.90,1303.89 522.90,1304.74 523.90,1305.59 524.90,1306.44 525.90,1307.30 526.90,1308.17 527.90,1309.03 528.90,1309.90 529.90,1310.77 530.90,1311.63 531.90,1312.50 532.90,1313.36 533.40,1313.79 533.90,1314.23 534.90,1315.09 535.90,1315.96 536.90,1316.82 537.90,1317.69 538.90,1318.57 539.90,1319.44 540.90,1320.32 541.90,1321.20 542.90,1322.09 543.90,1322.97 544.90,1323.86 545.90,1324.76 546.90,1325.65 547.90,1326.55 548.90,1327.45 549.90,1328.35 550.90,1329.25 551.90,1330.16 552.90,1331.06 553.90,1331.97 554.90,1332.87 555.90,1333.78 556.90,1334.69 557.90,1335.60 558.90,1336.50 559.90,1337.41 560.90,1338.32 561.90,1339.23 562.90,1340.15 563.90,1341.06 564.90,1341.97 565.90,1342.88 566.90,1343.80 567.90,1344.71 568.90,1345.62 569.90,1346.54 570.90,1347.45 571.40,1347.91 571.90,1348.37 572.90,1349.28 573.90,1350.20 574.90,1351.12 575.90,1352.03 576.90,1352.95 577.90,1353.87 578.90,1354.79 579.90,1355.71 580.90,1356.63 581.90,1357.55 582.90,1358.47 583.90,1359.40 584.90,1360.32 585.90,1361.24 586.90,1362.16 587.90,1363.08 588.90,1364.00 589.90,1364.92 590.90,1365.84 591.90,1366.75 592.90,1367.67 593.90,1368.58 594.90,1369.49 595.90,1370.41 596.90,1371.31 597.90,1372.22 598.90,1373.13 599.90,1374.03 600.90,1374.93 601.90,1375.83 602.90,1376.72 603.90,1377.61 604.90,1378.50 605.90,1379.39 606.90,1380.27 607.90,1381.15 608.90,1382.03 609.90,1382.90 610.15,1383.12 610.90,1383.77 611.90,1384.64 612.90,1385.51 613.90,1386.37 614.90,1387.23 615.90,1388.09 616.90,1388.95 617.90,1389.81 618.90,1390.66 619.90,1391.51 620.90,1392.36 621.90,1393.21 622.90,1394.05 623.90,1394.89 624.90,1395.73 625.90,1396.57 626.90,1397.41 627.90,1398.24 628.90,1399.08 629.90,1399.91 630.90,1400.74 631.90,1401.56 632.90,1402.39 633.90,1403.21 634.90,1404.03 635.90,1404.85 636.90,1405.67 637.90,1406.48 638.90,1407.29 639.90,1408.10 640.90,1408.91 641.90,1409.72 642.90,1410.53 643.90,1411.34 644.90,1412.14 645.15,1412.34 645.90,1412.95 646.90,1413.76 647.90,1414.56 648.90,1415.37 649.90,1416.18 650.90,1416.99 651.90,1417.80 652.90,1418.62 653.90,1419.43 654.90,1420.24 655.90,1421.05 656.90,1421.86 657.90,1422.66 658.90,1423.47 659.90,1424.27 660.90,1425.07 661.90,1425.86 662.90,1426.65 663.90,1427.44 664.90,1428.22 665.90,1428.99 666.90,1429.76 667.90,1430.52 668.90,1431.27 669.90,1432.01 670.90,1432.75 671.90,1433.48 672.90,1434.19 673.90,1434.90 674.90,1435.60 675.90,1436.29 676.90,1436.97 677.90,1437.63 678.90,1438.29 679.90,1438.94 680.15,1439.10 680.90,1439.59 681.90,1440.22 682.90,1440.85 683.90,1441.47 684.90,1442.08 685.90,1442.70 686.90,1443.30 687.90,1443.90 688.90,1444.50 689.90,1445.09 690.90,1445.67 691.90,1446.25 692.90,1446.83 693.90,1447.40 694.90,1447.96 695.90,1448.52 696.90,1449.07 697.90,1449.61 698.90,1450.15 699.90,1450.68 700.90,1451.21 701.90,1451.72 702.90,1452.23 703.90,1452.74 704.90,1453.23 705.90,1453.72 706.90,1454.19 707.90,1454.66 708.90,1455.13 709.90,1455.58 710.90,1456.03 711.90,1456.46 712.90,1456.89 713.90,1457.32 714.90,1457.73 715.15,1457.84 715.90,1458.15 716.90,1458.55 717.90,1458.95 718.90,1459.35 719.90,1459.75 720.90,1460.14 721.90,1460.53 722.90,1460.91 723.90,1461.29 724.90,1461.67 725.90,1462.04 726.90,1462.41 727.90,1462.78 728.90,1463.14 729.90,1463.49 730.90,1463.84 731.90,1464.18 732.90,1464.52 733.90,1464.85 734.90,1465.17 735.90,1465.49 736.90,1465.80 737.90,1466.10 738.90,1466.39 739.90,1466.67 740.90,1466.94 741.90,1467.21 742.90,1467.46 743.90,1467.71 744.90,1467.94 745.90,1468.17 746.90,1468.38 747.90,1468.59 748.90,1468.78 749.90,1468.97 750.40,1469.06 750.90,1469.15 751.90,1469.33 752.90,1469.50 753.90,1469.66 754.90,1469.82 755.90,1469.98 756.90,1470.13 757.90,1470.28 758.90,1470.43 759.90,1470.58 760.90,1470.72 761.90,1470.86 762.90,1471.00 763.90,1471.14 764.90,1471.27 765.90,1471.40 766.90,1471.53 767.90,1471.66 768.90,1471.78 769.90,1471.90 770.90,1472.02 771.90,1472.14 772.90,1472.25 773.90,1472.37 774.90,1472.47 775.90,1472.58 776.90,1472.68 777.90,1472.78 778.90,1472.88 779.90,1472.98 780.90,1473.07 781.90,1473.16 782.90,1473.25 783.90,1473.33 784.90,1473.41 785.90,1473.49 786.90,1473.57 787.90,1473.64 788.90,1473.71 789.90,1473.78 790.90,1473.85 791.90,1473.91 792.90,1473.97 793.90,1474.02 794.90,1474.08 795.90,1474.13 796.90,1474.18 797.90,1474.23 798.90,1474.28 799.90,1474.32 800.90,1474.37 801.90,1474.41 802.90,1474.46 803.90,1474.50 804.90,1474.54 805.90,1474.59 806.90,1474.63 807.90,1474.67 808.90,1474.71 809.90,1474.75 810.90,1474.79 811.90,1474.83 812.90,1474.87 813.90,1474.91 814.90,1474.94 815.90,1474.98 816.90,1475.02 817.90,1475.06 818.90,1475.09 819.90,1475.13 820.90,1475.16 821.90,1475.20 822.90,1475.23 823.90,1475.27 824.90,1475.30 825.90,1475.33 826.90,1475.36 827.90,1475.39 828.90,1475.43 829.90,1475.46 830.90,1475.49 831.90,1475.51 832.90,1475.54 833.90,1475.57 834.90,1475.60 835.90,1475.62 836.90,1475.65 837.90,1475.68 838.90,1475.70 839.90,1475.72 840.90,1475.75 841.90,1475.77 842.90,1475.79 843.90,1475.81 844.90,1475.83 845.90,1475.85 846.90,1475.87 847.90,1475.89 848.90,1475.91 849.90,1475.93 850.90,1475.94 851.90,1475.96 852.90,1475.97 853.90,1475.99 854.90,1476.00 855.90,1476.01 856.90,1476.02 857.90,1476.03 858.90,1476.04 859.90,1476.05 860.90,1476.06 861.90,1476.07 862.90,1476.08 863.90,1476.08 864.90,1476.09 865.90,1476.09 866.90,1476.10 867.15,1476.10 867.90,1476.10 868.90,1476.10 869.90,1476.11 870.90,1476.11 871.90,1476.11 872.90,1476.11 873.90,1476.12 874.90,1476.12 875.90,1476.12 876.90,1476.12 877.90,1476.12 878.90,1476.13 879.90,1476.13 880.90,1476.13 881.90,1476.13 882.90,1476.13 883.90,1476.13 884.90,1476.14 885.90,1476.14 886.90,1476.14 887.90,1476.14 888.90,1476.14 889.90,1476.14 890.90,1476.15 891.90,1476.15 892.90,1476.15 893.90,1476.15 894.90,1476.15 895.90,1476.15 896.90,1476.15 897.90,1476.15 898.90,1476.16 899.90,1476.16 900.90,1476.16 901.90,1476.16 902.90,1476.16 903.90,1476.16 904.90,1476.16 905.90,1476.16 906.90,1476.16 907.90,1476.16 908.90,1476.17 909.90,1476.17 910.90,1476.17 911.90,1476.17 912.90,1476.17 913.90,1476.17 914.90,1476.17 915.90,1476.17 916.90,1476.17 917.90,1476.17 918.90,1476.18 919.90,1476.18 920.90,1476.18 921.90,1476.18 922.90,1476.18 923.90,1476.18 924.90,1476.18 925.90,1476.18 926.90,1476.18 927.90,1476.18 928.90,1476.19 929.90,1476.19 930.90,1476.19 931.90,1476.19 932.90,1476.19 933.90,1476.19 934.90,1476.19 935.90,1476.19 936.90,1476.20 937.90,1476.20 938.90,1476.20 939.90,1476.20 940.90,1476.20 941.90,1476.20 942.90,1476.20 943.90,1476.21 944.90,1476.21 945.90,1476.21 946.90,1476.21 947.90,1476.21 948.90,1476.21 949.90,1476.22 950.90,1476.22 951.90,1476.22 952.90,1476.22 953.90,1476.22 954.90,1476.23 955.90,1476.23 956.90,1476.23 957.90,1476.23 958.90,1476.23 959.90,1476.24 960.90,1476.24 961.90,1476.24 962.90,1476.24 963.90,1476.24 964.90,1476.25 965.90,1476.25 966.90,1476.25 967.90,1476.25 968.90,1476.25 969.90,1476.26 970.90,1476.26 971.90,1476.26 972.90,1476.26 973.90,1476.26 974.90,1476.27 975.90,1476.27 976.90,1476.27 977.90,1476.27 978.90,1476.28 979.90,1476.28 980.90,1476.28 981.90,1476.28 982.90,1476.28 983.90,1476.29 984.90,1476.29 985.90,1476.29 986.90,1476.29 987.90,1476.30 988.90,1476.30 989.90,1476.30 990.90,1476.30 991.90,1476.30 992.90,1476.31 993.90,1476.31 994.90,1476.31 995.90,1476.31 996.90,1476.32 997.90,1476.32 998.90,1476.32 999.90,1476.32 1000.90,1476.32 1001.90,1476.33 1002.90,1476.33 1003.90,1476.33 1004.90,1476.33 1005.90,1476.33 1006.90,1476.34 1007.90,1476.34 1008.90,1476.34 1009.90,1476.34 1010.90,1476.34 1011.90,1476.35 1012.90,1476.35 1013.90,1476.35 1014.90,1476.35 1015.90,1476.35 1016.90,1476.36 1017.90,1476.36 1018.90,1476.36 1019.90,1476.36 1020.90,1476.36 1021.90,1476.36 1022.90,1476.37 1023.90,1476.37 1024.90,1476.37 1025.90,1476.37 1026.90,1476.37 1027.90,1476.37 1028.90,1476.38 1029.90,1476.38 1030.90,1476.38 1031.90,1476.38 1032.90,1476.38 1033.90,1476.38 1034.90,1476.38 1035.90,1476.38 1036.90,1476.39 1037.90,1476.39 1038.90,1476.39 1039.90,1476.39 1040.90,1476.39 1041.90,1476.39 1042.90,1476.39 1043.90,1476.39 1044.90,1476.39 1045.90,1476.39 1046.90,1476.39 1047.90,1476.40 1048.90,1476.40 1049.90,1476.40 1050.90,1476.40 1051.90,1476.40 1052.90,1476.40 1053.90,1476.40 1054.90,1476.40 1055.90,1476.40 1056.90,1476.40 1057.90,1476.40 1058.90,1476.40 1059.90,1476.40 1060.90,1476.40 1061.90,1476.40 1062.90,1476.40 1063.90,1476.40 1064.90,1476.40 1065.90,1476.40 1066.90,1476.40 1067.90,1476.40 1068.90,1476.40 1069.90,1476.40 1070.90,1476.40 1071.90,1476.40 1072.90,1476.40 1073.90,1476.40 1074.90,1476.40 1075.90,1476.40 1076.90,1476.40 1077.90,1476.40 1078.90,1476.40 1079.90,1476.40 1080.90,1476.40 1081.90,1476.40 1082.90,1476.40 1083.90,1476.40 1084.90,1473.69 1085.90,1469.73 1086.40,1469.20 1086.90,1469.35 1087.90,1470.11 1088.90,1471.20 1089.90,1472.30 1090.90,1473.58 1091.90,1475.08 1092.90,1476.18 1093.40,1476.39 1093.90,1476.40 1094.90,1476.40 1095.90,1476.39 1096.90,1476.38 1097.90,1476.36 1098.90,1476.34 1099.90,1476.32 1100.90,1476.29 1101.90,1476.26 1102.90,1476.22 1103.90,1476.18 1104.90,1476.13 1105.90,1476.08 1106.90,1476.00 1107.90,1475.91 1108.90,1475.80 1109.90,1475.67 1110.40,1475.60 1110.90,1475.52 1111.90,1475.34 1112.90,1475.13 1113.90,1474.90 1114.90,1474.66 1115.90,1474.41 1116.90,1474.16 1117.90,1473.93 1118.90,1473.72 1119.90,1473.55 1120.90,1473.42 1121.90,1473.33 1122.40,1473.30 1122.90,1473.28 1123.90,1473.29 1124.90,1473.33 1125.90,1473.40 1126.90,1473.49 1127.90,1473.61 1128.90,1473.72 1129.90,1473.84 1130.90,1473.95 1131.90,1474.06 1132.90,1474.15 1133.90,1474.23 1134.90,1474.30 1135.90,1474.37 1136.90,1474.42 1137.90,1474.47 1138.90,1474.52 1139.90,1474.57 1140.90,1474.61 1141.90,1474.65 1142.90,1474.69 1143.90,1474.73 1144.90,1474.76 1145.90,1474.80 1146.90,1474.83 1147.90,1474.87 1148.90,1474.90 1149.90,1474.93 1150.90,1474.96 1151.90,1474.99 1152.90,1475.02 1153.90,1475.05 1154.90,1475.07 1155.90,1475.10 1156.90,1475.12 1157.90,1475.15 1158.90,1475.17 1159.90,1475.19 1160.90,1475.21 1161.90,1475.23 1162.90,1475.25 1163.90,1475.26 1164.90,1475.28 1165.90,1475.29 1166.90,1475.31 1167.90,1475.32 1168.90,1475.33 1169.90,1475.34 1170.90,1475.35 1171.90,1475.36 1172.90,1475.36 1173.90,1475.36 1174.90,1475.36 1175.90,1475.34 1176.90,1475.32 1177.90,1475.28 1178.90,1475.22 1179.65,1475.16 1179.90,1475.14 1180.90,1475.03 1181.90,1474.89 1182.90,1474.72 1183.90,1474.52 1184.90,1474.29 1185.90,1474.04 1186.90,1473.77 1187.90,1473.48 1188.90,1473.19 1189.90,1472.90 1190.90,1472.63 1191.90,1472.37 1192.90,1472.14 1193.90,1471.93 1194.90,1471.77 1195.90,1471.66 1196.90,1471.59 1197.65,1471.57 1197.90,1471.57 1198.90,1471.60 1199.90,1471.68 1200.90,1471.81 1201.90,1471.98 1202.90,1472.18 1203.90,1472.42 1204.90,1472.68 1205.90,1472.96 1206.90,1473.24 1207.90,1473.53 1208.90,1473.81 1209.90,1474.08 1210.90,1474.33 1211.90,1474.55 1212.90,1474.76 1213.90,1474.93 1214.90,1475.08 1215.65,1475.18 1215.90,1475.21 1216.90,1475.31 1217.90,1475.39 1218.90,1475.46 1219.90,1475.51 1220.90,1475.56 1221.90,1475.60 1222.90,1475.64 1223.90,1475.67 1224.90,1475.70 1225.90,1475.73 1226.90,1475.76 1227.90,1475.79 1228.90,1475.82 1229.90,1475.84 1230.90,1475.87 1231.90,1475.89 1232.90,1475.92 1233.90,1475.94 1234.90,1475.97 1235.90,1475.99 1236.90,1476.01 1237.90,1476.03 1238.90,1476.05 1239.90,1476.07 1240.90,1476.09 1241.90,1476.11 1242.90,1476.13 1243.90,1476.14 1244.90,1476.16 1245.90,1476.18 1246.90,1476.19 1247.90,1476.21 1248.90,1476.22 1249.90,1476.23 1250.90,1476.25 1251.90,1476.26 1252.90,1476.27 1253.90,1476.28 1254.90,1476.29 1255.90,1476.30 1256.90,1476.31 1257.90,1476.32 1258.90,1476.33 1259.90,1476.34 1260.90,1476.35 1261.90,1476.35 1262.90,1476.36 1263.90,1476.36 1264.90,1476.37 1265.90,1476.37 1266.90,1476.38 1267.90,1476.38 1268.90,1476.39 1269.90,1476.39 1270.90,1476.39 1271.90,1476.39 1272.90,1476.40 1273.90,1476.40 1274.90,1476.40 1275.40,1476.40 1275.90,1476.40 1276.90,1476.40 1277.90,1476.40 1278.90,1476.40 1279.90,1476.40 1280.90,1476.40 1281.90,1476.40 1282.90,1476.39 1283.90,1476.39 1284.90,1476.39 1285.90,1476.39 1286.90,1476.39 1287.90,1476.39 1288.90,1476.39 1289.90,1476.38 1290.90,1476.38 1291.90,1476.38 1292.90,1476.38 1293.90,1476.37 1294.90,1476.37 1295.90,1476.37 1296.90,1476.36 1297.90,1476.36 1298.90,1476.36 1299.90,1476.35 1300.90,1476.35 1301.90,1476.34 1302.90,1476.34 1303.90,1476.33 1304.90,1476.33 1305.90,1476.32 1306.90,1476.32 1307.90,1476.31 1308.90,1476.31 1309.90,1476.30 1310.90,1476.30 1311.90,1476.29 1312.90,1476.28 1313.90,1476.28 1314.90,1476.27 1315.90,1476.26 1316.90,1476.25 1317.90,1476.25 1318.90,1476.24 1319.90,1476.23 1320.90,1476.22 1321.90,1476.21 1322.90,1476.20 1323.90,1476.19 1324.90,1476.18 1325.90,1476.17 1326.90,1476.16 1327.90,1476.15 1328.90,1476.14 1329.90,1476.13 1330.90,1476.12 1331.90,1476.11 1332.90,1476.10 1333.90,1476.09 1334.90,1476.07 1335.90,1476.06 1336.90,1476.05 1337.90,1476.04 1338.90,1476.02 1339.90,1476.01 1340.90,1475.99 1341.90,1475.97 1342.90,1475.95 1343.90,1475.93 1344.90,1475.90 1345.90,1475.86 1346.90,1475.82 1347.40,1475.79 1347.90,1475.76 1348.90,1475.69 1349.90,1475.60 1350.90,1475.50 1351.90,1475.39 1352.90,1475.27 1353.90,1475.13 1354.90,1474.98 1355.90,1474.83 1356.90,1474.68 1357.90,1474.52 1358.90,1474.38 1359.90,1474.24 1360.90,1474.11 1361.90,1474.00 1362.90,1473.92 1363.90,1473.86 1364.90,1473.83 1365.90,1473.83 1366.40,1473.85 1366.90,1473.87 1367.90,1473.95 1368.90,1474.06 1369.90,1474.20 1370.90,1474.37 1371.90,1474.57 1372.90,1474.78 1373.90,1475.00 1374.90,1475.21 1375.90,1475.42 1376.90,1475.62 1377.90,1475.79 1378.90,1475.94 1379.90,1476.07 1380.90,1476.17 1381.90,1476.24 1382.90,1476.30 1383.90,1476.34 1384.90,1476.36 1385.90,1476.38 1386.90,1476.39 1387.90,1476.39 1388.90,1476.40 1389.90,1476.40 1390.90,1476.40 1391.90,1476.40 1392.90,1476.40 1393.90,1476.40 1394.90,1476.40 1395.90,1476.40 1396.90,1476.40 1397.90,1476.40 1398.90,1476.40 1399.90,1476.40 1400.90,1476.40 1401.90,1476.40 1402.90,1476.40 1403.90,1476.40 1404.90,1476.40 1405.90,1476.40 1406.90,1476.40 1407.90,1476.40 1408.90,1476.40 1409.90,1476.40 1410.90,1476.40 1411.90,1476.40 1412.90,1476.40 1413.90,1476.40 1414.90,1476.40 1415.90,1476.40 1416.90,1476.40 1417.90,1476.40 1418.90,1476.40 1419.90,1476.40 1420.90,1476.40 1421.90,1476.40 1422.90,1476.40 1423.90,1476.40 1424.90,1476.40 1425.90,1476.40 1426.90,1476.40 1427.90,1476.40 1428.90,1476.40 1429.90,1476.40 1430.90,1476.40 1431.90,1476.40 1432.90,1476.40 1433.90,1476.40 1434.90,1476.40 1435.90,1476.40 1436.90,1476.40 1437.90,1476.40 1438.90,1476.40 1439.90,1476.40 1440.90,1476.40 1441.90,1476.40 1442.90,1476.40 1443.90,1476.40 1444.90,1476.40 1445.90,1476.40 1446.90,1476.40 1447.90,1476.40 1448.90,1476.40 1449.90,1476.40 1450.90,1476.40 1451.90,1476.40 1452.90,1476.40 1453.90,1476.40 1454.90,1476.40 1455.90,1476.40 1456.90,1476.40 1457.40,1476.40" fill="none" stroke="#333333" stroke-width="2.9" stroke-linejoin="round" stroke-linecap="round"/>
<path d="M267.90,1252.40 268.90,1252.38 269.90,1252.35 270.90,1252.33 271.90,1252.31 272.90,1252.28 273.90,1252.26 274.90,1252.23 275.90,1252.21 276.90,1252.19 277.90,1252.16 278.90,1252.13 279.90,1252.10 280.90,1252.07 281.90,1252.04 282.90,1252.01 283.90,1251.97 284.90,1251.92 285.90,1251.88 286.40,1251.85 286.90,1251.82 287.90,1251.77 288.90,1251.70 289.90,1251.63 290.90,1251.56 291.90,1251.47 292.90,1251.38 293.90,1251.28 294.90,1251.18 295.90,1251.07 296.90,1250.95 297.90,1250.82 298.90,1250.69 299.90,1250.56 300.90,1250.41 301.90,1250.27 302.90,1250.11 303.90,1249.95 304.90,1249.79 305.90,1249.62 306.90,1249.44 307.90,1249.26 308.90,1249.07 309.90,1248.88 310.90,1248.67 311.90,1248.46 312.65,1248.29 312.90,1248.24 313.90,1248.00 314.90,1247.75 315.90,1247.49 316.90,1247.21 317.90,1246.91 318.90,1246.60 319.90,1246.27 320.90,1245.92 321.90,1245.56 322.90,1245.19 323.90,1244.80 324.90,1244.40 325.90,1243.98 326.90,1243.56 327.90,1243.12 328.90,1242.66 329.90,1242.20 330.90,1241.72 331.90,1241.23 332.90,1240.73 333.65,1240.34 333.90,1240.20 334.90,1239.66 335.90,1239.11 336.90,1238.53 337.90,1237.92 338.90,1237.30 339.90,1236.66 340.90,1235.99 341.90,1235.30 342.90,1234.59 343.90,1233.86 344.90,1233.11 345.90,1232.34 346.90,1231.55 347.90,1230.74 348.90,1229.91 349.90,1229.06 350.90,1228.19 351.15,1227.97 351.90,1227.30 352.90,1226.38 353.90,1225.43 354.90,1224.46 355.90,1223.47 356.90,1222.44 357.90,1221.39 358.90,1220.32 359.90,1219.22 360.90,1218.09 361.90,1216.95 362.90,1215.78 363.90,1214.59 364.90,1213.38 365.90,1212.15 366.90,1210.89 367.90,1209.62 368.65,1208.65 368.90,1208.32 369.90,1207.00 370.90,1205.65 371.90,1204.27 372.90,1202.87 373.90,1201.44 374.90,1199.98 375.90,1198.49 376.90,1196.98 377.90,1195.44 378.90,1193.87 379.90,1192.27 380.90,1190.65 381.90,1188.99 382.65,1187.73 382.90,1187.31 383.90,1185.59 384.90,1183.85 385.90,1182.07 386.90,1180.27 387.90,1178.44 388.90,1176.58 389.90,1174.70 390.90,1172.80 391.90,1170.89 392.90,1168.96 393.90,1167.03 394.90,1165.08 395.90,1163.13 396.65,1161.66 396.90,1161.17 397.90,1159.20 398.90,1157.23 399.90,1155.25 400.90,1153.27 401.90,1151.27 402.90,1149.28 403.90,1147.27 404.90,1145.26 405.90,1143.25 406.90,1141.24 407.90,1139.22 408.90,1137.19 409.90,1135.16 410.65,1133.63 410.90,1133.12 411.90,1131.08 412.90,1129.04 413.90,1126.99 414.90,1124.95 415.90,1122.91 416.90,1120.88 417.90,1118.86 418.90,1116.86 419.90,1114.89 420.90,1112.95 421.90,1111.04 422.90,1109.17 423.90,1107.33 424.65,1105.98 424.90,1105.53 425.90,1103.77 426.90,1102.04 427.90,1100.34 428.90,1098.69 429.90,1097.07 430.90,1095.49 431.90,1093.96 432.90,1092.47 433.90,1091.03 434.90,1089.64 435.90,1088.31 436.90,1087.03 437.90,1085.80 438.65,1084.91 438.90,1084.62 439.90,1083.48 440.90,1082.39 441.90,1081.35 442.90,1080.35 443.90,1079.39 444.90,1078.49 445.90,1077.64 446.90,1076.85 447.90,1076.12 448.90,1075.46 449.90,1074.88 450.90,1074.36 451.90,1073.91 452.65,1073.62 452.90,1073.53 453.90,1073.21 454.90,1072.94 455.90,1072.71 456.90,1072.54 457.90,1072.40 458.90,1072.30 459.90,1072.25 460.90,1072.23 461.40,1072.23 461.90,1072.24 462.90,1072.30 463.90,1072.40 464.90,1072.53 465.90,1072.70 466.90,1072.91 467.90,1073.15 468.90,1073.42 469.90,1073.72 470.90,1074.05 471.90,1074.41 472.90,1074.80 473.90,1075.22 474.90,1075.68 475.90,1076.18 476.90,1076.72 477.90,1077.30 478.90,1077.92 479.90,1078.58 480.90,1079.28 481.90,1080.02 482.90,1080.79 483.90,1081.59 484.90,1082.41 485.90,1083.26 486.90,1084.12 487.90,1085.01 488.90,1085.90 489.90,1086.81 490.90,1087.74 491.40,1088.20 491.90,1088.68 492.90,1089.63 493.90,1090.61 494.90,1091.60 495.90,1092.62 496.90,1093.65 497.90,1094.71 498.90,1095.79 499.90,1096.89 500.90,1098.01 501.90,1099.14 502.90,1100.30 503.90,1101.47 504.90,1102.66 505.90,1103.86 506.90,1105.09 507.90,1106.33 508.90,1107.59 509.90,1108.87 510.90,1110.17 511.90,1111.49 512.90,1112.83 513.90,1114.19 514.90,1115.57 515.90,1116.96 516.90,1118.37 517.90,1119.78 518.90,1121.21 519.90,1122.64 520.90,1124.07 521.90,1125.50 522.90,1126.93 523.90,1128.35 524.90,1129.77 525.90,1131.18 526.40,1131.88 526.90,1132.59 527.90,1133.99 528.90,1135.38 529.90,1136.77 530.90,1138.16 531.90,1139.54 532.90,1140.92 533.90,1142.29 534.90,1143.66 535.90,1145.02 536.90,1146.37 537.90,1147.72 538.90,1149.07 539.90,1150.40 540.90,1151.73 541.90,1153.05 542.90,1154.36 543.90,1155.67 544.90,1156.98 545.90,1158.28 546.90,1159.57 547.90,1160.87 548.90,1162.16 549.90,1163.45 550.90,1164.75 551.90,1166.05 552.90,1167.35 553.90,1168.66 554.90,1169.97 555.90,1171.28 556.90,1172.60 557.90,1173.92 558.90,1175.25 559.90,1176.57 560.90,1177.89 561.90,1179.20 562.90,1180.51 563.90,1181.81 564.90,1183.09 565.90,1184.37 566.90,1185.63 567.90,1186.87 568.90,1188.09 569.90,1189.30 570.90,1190.49 571.15,1190.78 571.90,1191.65 572.90,1192.81 573.90,1193.94 574.90,1195.05 575.90,1196.16 576.90,1197.24 577.90,1198.32 578.90,1199.38 579.90,1200.43 580.90,1201.48 581.90,1202.52 582.90,1203.55 583.90,1204.57 584.90,1205.60 585.90,1206.62 586.90,1207.63 587.90,1208.65 588.90,1209.67 589.90,1210.69 590.90,1211.71 591.40,1212.22 591.90,1212.73 592.90,1213.75 593.90,1214.78 594.90,1215.80 595.90,1216.82 596.90,1217.85 597.90,1218.87 598.90,1219.89 599.90,1220.90 600.90,1221.91 601.90,1222.92 602.90,1223.92 603.90,1224.91 604.90,1225.90 605.90,1226.87 606.90,1227.84 607.90,1228.81 608.90,1229.76 609.90,1230.71 610.65,1231.42 610.90,1231.65 611.90,1232.59 612.90,1233.52 613.90,1234.44 614.90,1235.36 615.90,1236.26 616.90,1237.16 617.90,1238.05 618.90,1238.93 619.90,1239.79 620.90,1240.65 621.90,1241.49 622.90,1242.32 623.90,1243.13 624.90,1243.91 625.90,1244.65 626.90,1245.35 627.40,1245.69 627.90,1246.02 628.90,1246.72 629.90,1247.43 630.90,1248.13 631.90,1248.78 632.90,1249.33 633.90,1249.76 634.90,1250.03 635.65,1250.10 635.90,1250.07 636.90,1249.04 637.90,1246.83 638.40,1245.32 638.90,1241.29 639.90,1225.42 640.90,1205.32 641.40,1195.99 641.90,1187.07 642.90,1168.35 643.40,1162.10 643.90,1157.88 644.90,1151.59 645.40,1150.60 645.90,1151.22 646.90,1155.62 647.40,1159.27 647.90,1170.34 648.90,1204.25 649.90,1233.85 650.40,1244.50 650.90,1249.48 651.90,1256.03 652.40,1257.20 652.90,1257.51 653.90,1258.02 654.90,1258.43 655.90,1258.74 656.90,1258.99 657.90,1259.17 658.90,1259.33 659.90,1259.46 660.90,1259.59 661.90,1259.76 662.15,1259.80 662.90,1259.94 663.90,1260.12 664.90,1260.29 665.90,1260.46 666.90,1260.62 667.90,1260.77 668.90,1260.92 669.90,1261.07 670.90,1261.21 671.90,1261.35 672.90,1261.48 673.90,1261.61 674.90,1261.73 675.90,1261.84 676.90,1261.95 677.90,1262.05 678.90,1262.15 679.90,1262.24 680.90,1262.33 681.40,1262.37 681.90,1262.41 682.90,1262.48 683.90,1262.56 684.90,1262.63 685.90,1262.69 686.90,1262.76 687.90,1262.82 688.90,1262.88 689.90,1262.94 690.90,1263.00 691.90,1263.05 692.90,1263.11 693.90,1263.16 694.90,1263.21 695.90,1263.25 696.90,1263.29 697.90,1263.34 698.90,1263.37 699.90,1263.41 700.90,1263.44 701.90,1263.47 702.90,1263.50 703.90,1263.52 704.90,1263.55 705.90,1263.57 706.90,1263.58 707.15,1263.59 707.90,1263.60 708.90,1263.61 709.90,1263.63 710.90,1263.64 711.90,1263.65 712.90,1263.66 713.90,1263.67 714.90,1263.68 715.90,1263.69 716.90,1263.70 717.90,1263.71 718.90,1263.72 719.90,1263.72 720.90,1263.73 721.90,1263.74 722.90,1263.75 723.90,1263.76 724.90,1263.76 725.90,1263.77 726.90,1263.78 727.90,1263.79 728.90,1263.79 729.90,1263.80 730.90,1263.81 731.90,1263.81 732.90,1263.82 733.90,1263.82 734.90,1263.83 735.90,1263.83 736.90,1263.84 737.90,1263.84 738.90,1263.85 739.90,1263.85 740.90,1263.86 741.90,1263.86 742.90,1263.87 743.90,1263.87 744.90,1263.87 745.90,1263.88 746.90,1263.88 747.90,1263.88 748.90,1263.88 749.90,1263.89 750.90,1263.89 751.90,1263.89 752.90,1263.89 753.90,1263.89 754.90,1263.90 755.90,1263.90 756.90,1263.90 757.90,1263.90 758.90,1263.90 759.90,1263.90 760.90,1263.90 761.90,1263.90 762.90,1263.90 763.90,1263.90 764.90,1263.90 765.90,1263.90 766.90,1263.90 767.90,1263.90 768.90,1263.90 769.90,1263.90 770.90,1263.90 771.90,1263.90 772.90,1263.90 773.90,1263.90 774.90,1263.90 775.90,1263.90 776.90,1263.90 777.90,1263.90 778.90,1263.90 779.90,1263.90 780.90,1263.90 781.90,1263.90 782.90,1263.90 783.90,1263.90 784.90,1263.89 785.90,1263.89 786.90,1263.89 787.90,1263.89 788.90,1263.89 789.90,1263.89 790.90,1263.89 791.90,1263.89 792.90,1263.89 793.90,1263.89 794.90,1263.89 795.90,1263.89 796.90,1263.89 797.90,1263.88 798.90,1263.88 799.90,1263.88 800.90,1263.88 801.90,1263.88 802.90,1263.88 803.90,1263.88 804.90,1263.87 805.90,1263.87 806.90,1263.87 807.90,1263.87 808.90,1263.87 809.90,1263.87 810.90,1263.86 811.90,1263.86 812.90,1263.86 813.90,1263.86 814.90,1263.86 815.90,1263.85 816.90,1263.85 817.90,1263.85 818.90,1263.85 819.90,1263.84 820.90,1263.84 821.90,1263.84 822.90,1263.83 823.90,1263.83 824.90,1263.83 825.90,1263.82 826.90,1263.82 827.90,1263.82 828.90,1263.81 829.90,1263.81 830.90,1263.81 831.90,1263.80 832.90,1263.80 833.90,1263.79 834.90,1263.79 835.90,1263.79 836.90,1263.78 837.90,1263.78 838.90,1263.77 839.90,1263.77 840.90,1263.76 841.90,1263.76 842.90,1263.75 843.90,1263.75 844.90,1263.74 845.90,1263.74 846.90,1263.73 847.90,1263.73 848.90,1263.72 849.90,1263.71 850.90,1263.71 851.90,1263.70 852.90,1263.70 853.90,1263.69 854.90,1263.68 855.90,1263.68 856.90,1263.67 857.90,1263.66 858.90,1263.66 859.90,1263.65 860.90,1263.64 861.90,1263.63 862.90,1263.63 863.90,1263.62 864.90,1263.61 865.90,1263.60 866.90,1263.59 867.90,1263.57 868.90,1263.56 869.90,1263.56 870.90,1263.56 871.90,1263.55 872.90,1263.54 873.90,1263.53 874.90,1263.52 875.90,1263.51 876.90,1263.50 877.15,1263.50 877.90,1261.81 878.90,1254.63 879.90,1243.72 880.90,1215.91 881.40,1202.97 881.90,1195.49 882.90,1182.67 883.90,1175.47 884.15,1175.01 884.90,1177.34 885.90,1185.60 886.90,1202.96 887.65,1218.09 887.90,1222.08 888.90,1238.05 889.90,1250.75 890.40,1254.51 890.90,1257.44 891.90,1262.17 892.90,1264.10 893.90,1264.10 894.90,1264.10 895.90,1264.10 896.90,1264.10 897.90,1264.10 898.90,1264.10 899.90,1264.10 900.90,1264.09 901.90,1264.09 902.90,1264.10 903.90,1264.10 904.90,1264.10 905.90,1264.10 906.90,1264.10 907.90,1264.10 908.90,1264.10 909.90,1264.10 910.90,1264.10 911.90,1264.10 912.90,1264.10 913.90,1264.10 914.90,1264.10 915.90,1264.10 916.90,1264.10 917.90,1264.10 918.90,1264.10 919.90,1264.10 920.90,1264.10 921.90,1264.10 922.90,1264.10 923.90,1264.10 924.90,1264.10 925.90,1264.10 926.90,1264.10 927.90,1264.10 928.90,1264.10 929.90,1264.10 930.90,1264.10 931.90,1264.10 932.90,1264.10 933.90,1264.10 934.90,1264.10 935.90,1264.10 936.90,1264.10 937.90,1264.10 938.90,1264.10 939.90,1264.10 940.90,1264.10 941.90,1264.10 942.90,1264.10 943.90,1264.10 944.90,1264.10 945.90,1264.10 946.90,1264.10 947.90,1264.10 948.90,1264.10 949.90,1264.10 950.90,1264.10 951.90,1264.10 952.90,1264.10 953.90,1264.10 954.90,1264.10 955.90,1264.10 956.90,1264.10 957.90,1264.10 958.90,1264.10 959.90,1264.10 960.90,1264.10 961.90,1264.10 962.90,1264.10 963.90,1264.10 964.90,1264.10 965.90,1264.10 966.90,1264.10 967.90,1264.10 968.90,1264.10 969.90,1264.10 970.90,1264.10 971.90,1264.10 972.90,1264.10 973.90,1264.10 974.90,1264.10 975.90,1264.10 976.90,1264.10 977.90,1264.10 978.90,1264.10 979.90,1264.10 980.90,1264.10 981.90,1264.10 982.90,1264.10 983.90,1264.10 984.90,1264.10 985.90,1264.10 986.90,1264.10 987.90,1264.10 988.90,1264.10 989.90,1264.10 990.90,1264.10 991.90,1264.10 992.90,1264.10 993.90,1264.10 994.90,1264.10 995.90,1264.10 996.90,1264.10 997.90,1264.10 998.90,1264.10 999.90,1264.10 1000.90,1264.10 1001.90,1264.10 1002.90,1264.10 1003.90,1264.10 1004.90,1264.10 1005.90,1264.10 1006.90,1264.10 1007.90,1264.10 1008.90,1264.10 1009.90,1264.10 1010.90,1264.10 1011.90,1264.10 1012.90,1264.10 1013.90,1264.10 1014.90,1264.10 1015.90,1264.10 1016.90,1264.10 1017.90,1264.10 1018.90,1264.10 1019.90,1264.10 1020.90,1264.10 1021.90,1264.10 1022.90,1264.10 1023.90,1264.10 1024.90,1264.10 1025.90,1264.10 1026.90,1264.10 1027.90,1264.10 1028.90,1264.10 1029.90,1264.10 1030.90,1264.10 1031.90,1264.10 1032.90,1264.10 1033.90,1264.10 1034.90,1264.10 1035.90,1264.10 1036.90,1264.10 1037.90,1264.10 1038.90,1264.10 1039.90,1264.10 1040.90,1264.10 1041.90,1264.10 1042.90,1264.10 1043.90,1264.10 1044.90,1264.10 1045.90,1264.10 1046.90,1264.10 1047.90,1264.10 1048.90,1264.10 1049.90,1264.10 1050.90,1264.10 1051.90,1264.10 1052.90,1264.10 1053.90,1264.10 1054.90,1264.10 1055.90,1264.10 1056.90,1264.10 1057.90,1264.10 1058.90,1264.10 1059.90,1264.10 1060.90,1264.10 1061.90,1264.10 1062.90,1264.10 1063.90,1264.10 1064.90,1264.10 1065.90,1264.10 1066.90,1264.10 1067.90,1264.10 1068.15,1264.10 1068.90,1262.66 1069.90,1257.37 1070.90,1251.58 1071.90,1244.99 1072.90,1237.35 1073.90,1230.67 1074.90,1226.94 1075.15,1226.71 1075.90,1227.73 1076.90,1231.84 1077.90,1237.39 1078.65,1241.36 1078.90,1242.59 1079.90,1248.80 1080.90,1255.70 1081.90,1261.42 1082.90,1264.07 1083.90,1264.10 1084.90,1264.10 1085.90,1264.10 1086.90,1264.10 1087.90,1264.10 1088.90,1264.10 1089.90,1264.10 1090.90,1264.10 1091.90,1264.10 1092.90,1264.10 1093.90,1264.10 1094.90,1264.10 1095.90,1264.10 1096.90,1264.10 1097.90,1264.10 1098.90,1264.10 1099.90,1264.10 1100.90,1264.10 1101.90,1264.10 1102.90,1264.10 1103.90,1264.10 1104.90,1264.10 1105.90,1264.10 1106.90,1264.10 1107.90,1264.10 1108.90,1264.10 1109.90,1264.10 1110.90,1264.10 1111.90,1264.10 1112.90,1264.10 1113.90,1264.10 1114.90,1264.10 1115.90,1264.10 1116.90,1264.10 1117.90,1264.10 1118.90,1264.10 1119.90,1264.10 1120.90,1264.10 1121.90,1264.10 1122.90,1264.10 1123.90,1264.10 1124.90,1264.10 1125.90,1264.10 1126.90,1264.10 1127.90,1264.09 1128.90,1264.05 1129.90,1263.99 1130.90,1263.91 1131.90,1263.81 1132.90,1263.70 1133.90,1263.57 1134.90,1263.42 1135.90,1263.27 1136.90,1263.10 1137.90,1262.93 1138.90,1262.75 1139.90,1262.57 1140.90,1262.39 1141.90,1262.20 1142.90,1262.02 1143.90,1261.83 1144.90,1261.66 1145.90,1261.49 1146.90,1261.33 1147.90,1261.18 1148.90,1261.04 1149.90,1260.91 1150.90,1260.79 1151.90,1260.67 1152.90,1260.54 1153.90,1260.41 1154.90,1260.27 1155.90,1260.14 1156.90,1260.00 1157.90,1259.87 1158.90,1259.74 1159.90,1259.62 1160.90,1259.51 1161.90,1259.40 1162.90,1259.30 1163.90,1259.22 1164.90,1259.14 1165.90,1259.08 1166.90,1259.04 1167.90,1259.01 1168.90,1259.00 1169.90,1259.01 1170.90,1259.04 1171.90,1259.08 1172.90,1259.14 1173.90,1259.21 1174.90,1259.29 1175.90,1259.38 1176.90,1259.48 1177.90,1259.59 1178.90,1259.70 1179.90,1259.82 1180.90,1259.93 1181.90,1260.05 1182.90,1260.17 1183.90,1260.29 1184.90,1260.40 1185.90,1260.51 1186.90,1260.61 1187.90,1260.70 1188.90,1260.79 1189.90,1260.86 1190.90,1260.92 1191.90,1260.96 1192.90,1260.99 1193.90,1261.00 1194.90,1261.00 1195.90,1260.98 1196.90,1260.96 1197.90,1260.93 1198.90,1260.90 1199.90,1260.86 1200.90,1260.81 1201.90,1260.75 1202.90,1260.69 1203.90,1260.62 1204.90,1260.55 1205.90,1260.47 1206.90,1260.39 1207.90,1260.30 1208.90,1260.21 1209.90,1260.12 1210.90,1260.02 1211.90,1259.93 1212.90,1259.83 1213.90,1259.73 1214.90,1259.62 1215.90,1259.52 1216.90,1259.42 1217.90,1259.32 1218.90,1259.21 1219.90,1259.11 1220.90,1259.01 1221.90,1258.92 1222.90,1258.83 1223.90,1258.76 1224.90,1258.69 1225.90,1258.62 1226.90,1258.54 1227.90,1258.46 1228.90,1258.37 1229.90,1258.27 1230.90,1258.14 1231.90,1258.00 1232.90,1257.83 1233.90,1257.63 1234.90,1257.40 1235.90,1257.14 1236.90,1256.83 1237.40,1256.65 1237.90,1255.99 1238.90,1253.02 1239.90,1248.83 1240.15,1247.72 1240.90,1243.31 1241.90,1235.91 1242.15,1234.29 1242.90,1229.38 1243.65,1226.32 1243.90,1226.72 1244.90,1235.65 1245.65,1239.80 1245.90,1239.80 1246.90,1239.80 1247.90,1244.53 1248.90,1251.30 1249.90,1253.57 1250.90,1255.37 1251.90,1256.72 1252.90,1257.65 1253.65,1258.08 1253.90,1258.18 1254.90,1258.58 1255.90,1258.94 1256.90,1259.26 1257.90,1259.56 1258.90,1259.82 1259.90,1260.04 1260.90,1260.23 1261.90,1260.37 1262.90,1260.49 1263.90,1260.56 1264.90,1260.60 1265.40,1260.60 1265.90,1260.60 1266.90,1260.60 1267.90,1260.60 1268.90,1260.60 1269.90,1260.60 1270.90,1260.60 1271.90,1260.60 1272.90,1260.60 1273.90,1260.60 1274.90,1260.60 1275.90,1260.60 1276.90,1260.60 1277.90,1260.60 1278.90,1260.60 1279.90,1260.60 1280.90,1260.60 1281.90,1260.60 1282.90,1260.60 1283.90,1260.60 1284.65,1260.60 1284.90,1260.60 1285.90,1260.52 1286.90,1260.36 1287.90,1260.13 1288.90,1259.86 1289.90,1259.54 1290.90,1259.20 1291.90,1258.86 1292.90,1258.53 1293.90,1258.21 1294.90,1257.94 1295.90,1257.72 1296.90,1257.57 1297.90,1257.50 1298.15,1257.50 1298.90,1257.51 1299.90,1257.56 1300.90,1257.65 1301.90,1257.77 1302.90,1257.91 1303.90,1258.07 1304.90,1258.26 1305.90,1258.45 1306.90,1258.66 1307.90,1258.87 1308.90,1259.09 1309.90,1259.31 1310.90,1259.51 1311.90,1259.71 1312.90,1259.90 1313.40,1259.98 1313.90,1260.07 1314.90,1260.25 1315.90,1260.45 1316.90,1260.65 1317.90,1260.87 1318.90,1261.09 1319.90,1261.32 1320.90,1261.54 1321.90,1261.75 1322.90,1261.96 1323.90,1262.16 1324.90,1262.34 1325.90,1262.50 1326.90,1262.64 1327.90,1262.75 1328.90,1262.83 1329.90,1262.88 1330.90,1262.90 1331.90,1262.66 1332.90,1262.05 1333.90,1261.13 1334.90,1259.95 1335.65,1258.92 1335.90,1258.41 1336.90,1254.71 1337.90,1249.97 1338.40,1247.87 1338.90,1245.94 1339.90,1241.85 1340.90,1240.16 1341.90,1244.92 1342.90,1249.58 1343.90,1250.75 1344.65,1251.62 1344.90,1252.10 1345.90,1255.55 1346.90,1259.41 1347.90,1261.00 1348.90,1261.00 1349.90,1261.00 1350.90,1261.00 1351.90,1261.00 1352.90,1261.00 1353.90,1261.00 1354.90,1261.00 1355.90,1261.00 1356.90,1261.00 1357.90,1260.99 1358.90,1259.97 1359.90,1257.58 1360.90,1254.28 1361.65,1251.49 1361.90,1250.35 1362.90,1241.85 1363.90,1232.72 1364.65,1230.12 1364.90,1230.71 1365.90,1238.26 1366.90,1245.22 1367.15,1245.50 1367.90,1245.50 1368.90,1245.50 1369.40,1245.50 1369.90,1246.70 1370.90,1253.55 1371.90,1260.12 1372.40,1261.03 1372.90,1261.16 1373.90,1261.41 1374.90,1261.64 1375.90,1261.85 1376.90,1262.04 1377.90,1262.21 1378.90,1262.37 1379.90,1262.52 1380.90,1262.64 1381.90,1262.76 1382.90,1262.86 1383.90,1262.95 1384.90,1263.02 1385.90,1263.09 1386.90,1263.14 1387.90,1263.19 1388.90,1263.22 1389.90,1263.25 1390.90,1263.27 1391.90,1263.29 1392.90,1263.30 1393.90,1263.30 1394.40,1263.30 1394.90,1262.12 1395.90,1254.25 1396.90,1242.58 1397.40,1236.51 1397.90,1227.31 1398.90,1207.76 1399.40,1205.10 1399.90,1205.21 1400.90,1205.85 1401.90,1206.99 1402.90,1208.55 1403.15,1209.00 1403.90,1212.21 1404.90,1219.67 1405.90,1227.53 1406.90,1234.78 1407.90,1242.64 1408.90,1249.38 1409.90,1253.20 1410.90,1254.88 1411.90,1256.36 1412.90,1257.66 1413.90,1258.78 1414.90,1259.72 1415.90,1260.48 1416.90,1261.08 1417.90,1261.52 1418.90,1261.80 1419.40,1261.89 1419.90,1261.95 1420.90,1262.06 1421.90,1262.16 1422.90,1262.26 1423.90,1262.35 1424.90,1262.43 1425.90,1262.51 1426.90,1262.59 1427.90,1262.66 1428.90,1262.72 1429.90,1262.78 1430.90,1262.84 1431.90,1262.89 1432.90,1262.94 1433.90,1262.99 1434.90,1263.03 1435.90,1263.07 1436.90,1263.11 1437.90,1263.15 1438.90,1263.18 1439.90,1263.21 1440.90,1263.24 1441.90,1263.27 1442.90,1263.30 1443.90,1263.33 1444.90,1263.36 1445.90,1263.39 1446.90,1263.42 1447.90,1263.45 1448.90,1263.48 1449.90,1263.51 1450.90,1263.54 1451.90,1263.58 1452.90,1263.62 1453.90,1263.65 1454.90,1263.70 1455.90,1263.74 1456.90,1263.79" fill="none" stroke="#ec1c20" stroke-width="2.9" stroke-linejoin="round" stroke-linecap="round"/>
<path d="M267.90,1036.70 268.90,1037.49 269.90,1038.26 270.90,1039.03 271.90,1039.77 272.90,1040.49 273.90,1041.17 274.90,1041.81 275.90,1042.40 276.90,1042.95 277.40,1043.20 277.90,1043.45 278.90,1043.90 279.90,1044.32 280.90,1044.69 281.90,1045.04 282.90,1045.36 283.90,1045.66 284.90,1045.93 285.90,1046.18 286.90,1046.41 287.90,1046.63 288.90,1046.82 289.90,1046.99 290.90,1047.15 291.90,1047.28 292.90,1047.40 293.90,1047.50 294.90,1047.59 295.90,1047.66 296.90,1047.72 297.90,1047.77 298.90,1047.82 299.90,1047.86 300.90,1047.89 301.90,1047.92 302.90,1047.95 303.90,1047.97 304.90,1048.00 305.90,1048.01 306.90,1048.03 307.90,1048.04 308.90,1048.04 309.90,1048.03 310.90,1048.02 311.90,1047.99 312.65,1047.96 312.90,1047.94 313.90,1047.88 314.90,1047.80 315.90,1047.70 316.90,1047.58 317.90,1047.44 318.90,1047.27 319.90,1047.09 320.90,1046.89 321.90,1046.68 322.90,1046.45 323.90,1046.21 324.90,1045.96 325.90,1045.70 326.90,1045.44 327.90,1045.17 328.90,1044.90 329.90,1044.62 330.15,1044.55 330.90,1044.34 331.90,1044.05 332.90,1043.75 333.90,1043.45 334.90,1043.14 335.90,1042.81 336.90,1042.48 337.90,1042.14 338.90,1041.79 339.90,1041.42 340.90,1041.05 341.90,1040.67 342.90,1040.28 343.90,1039.88 344.90,1039.47 345.90,1039.05 346.90,1038.61 347.65,1038.28 347.90,1038.17 348.90,1037.71 349.90,1037.25 350.90,1036.77 351.90,1036.27 352.90,1035.76 353.90,1035.24 354.90,1034.71 355.90,1034.17 356.90,1033.62 357.90,1033.05 358.90,1032.48 359.90,1031.90 360.90,1031.32 361.90,1030.73 362.90,1030.14 363.90,1029.55 364.90,1028.96 365.15,1028.81 365.90,1028.37 366.90,1027.78 367.90,1027.19 368.90,1026.60 369.90,1026.01 370.90,1025.41 371.90,1024.79 372.90,1024.16 373.90,1023.51 374.90,1022.85 375.90,1022.16 376.90,1021.43 377.90,1020.66 378.90,1019.84 379.90,1018.99 380.90,1018.14 381.90,1017.33 382.65,1016.56 382.90,1016.28 383.90,1015.14 384.90,1013.62 385.90,1011.31 386.15,1010.56 386.90,1004.90 387.65,997.75 387.90,995.90 388.90,989.35 389.40,988.54 389.90,989.82 390.90,994.34 391.40,995.50 391.90,995.76 392.90,996.20 393.90,996.55 394.90,996.82 395.90,997.01 396.90,997.13 397.90,997.19 398.40,997.20 398.90,997.16 399.90,996.88 400.90,996.26 401.90,995.52 402.90,994.72 403.90,993.91 404.90,993.11 405.40,992.71 405.90,992.30 406.90,991.44 407.90,990.53 408.90,989.61 409.90,988.67 410.90,987.69 411.90,986.69 412.90,985.67 413.90,984.63 414.90,983.57 415.90,982.49 416.90,981.41 417.65,980.58 417.90,980.31 418.90,979.20 419.90,978.07 420.90,976.94 421.90,975.80 422.90,974.65 423.90,973.49 424.90,972.32 425.90,971.15 426.90,969.99 427.90,968.82 428.90,967.66 429.90,966.51 430.90,965.37 431.90,964.24 432.90,963.12 433.90,962.02 434.90,960.94 435.15,960.67 435.90,959.86 436.90,958.81 437.90,957.76 438.90,956.72 439.90,955.70 440.90,954.69 441.90,953.69 442.90,952.70 443.90,951.73 444.90,950.77 445.90,949.83 446.90,948.90 447.90,947.99 448.90,947.10 449.90,946.22 450.90,945.36 451.90,944.51 452.65,943.88 452.90,943.67 453.90,942.84 454.90,942.01 455.90,941.19 456.90,940.38 457.90,939.59 458.90,938.80 459.90,938.04 460.90,937.31 461.90,936.61 462.90,935.96 463.90,935.35 464.90,934.79 465.90,934.30 466.90,933.86 467.90,933.48 468.90,933.16 469.90,932.89 470.40,932.78 470.90,932.68 471.90,932.50 472.90,932.36 473.90,932.26 474.90,932.18 475.90,932.11 476.90,932.07 477.90,932.04 478.90,932.03 479.90,932.04 480.90,932.06 481.90,932.10 482.90,932.17 483.90,932.25 484.90,932.35 485.90,932.48 486.90,932.62 487.90,932.78 488.90,932.96 489.90,933.16 490.90,933.37 491.90,933.60 492.90,933.84 493.90,934.11 494.90,934.39 495.90,934.69 496.90,935.01 497.90,935.36 498.90,935.73 499.90,936.13 500.90,936.55 501.90,937.00 502.90,937.47 503.90,937.97 504.90,938.48 505.90,939.01 506.90,939.56 507.90,940.13 508.90,940.71 509.90,941.30 510.90,941.91 511.90,942.53 512.90,943.16 513.90,943.81 514.15,943.98 514.90,944.48 515.90,945.17 516.90,945.88 517.90,946.60 518.90,947.35 519.90,948.12 520.90,948.91 521.90,949.71 522.90,950.52 523.90,951.34 524.90,952.18 525.90,953.01 526.90,953.85 527.90,954.69 528.90,955.52 529.90,956.36 530.90,957.19 531.65,957.81 531.90,958.02 532.90,958.84 533.90,959.67 534.90,960.49 535.90,961.31 536.90,962.13 537.90,962.95 538.90,963.76 539.90,964.58 540.90,965.39 541.90,966.19 542.90,966.99 543.90,967.79 544.90,968.58 545.90,969.37 546.90,970.16 547.90,970.95 548.90,971.73 549.15,971.92 549.90,972.50 550.90,973.28 551.90,974.08 552.90,974.91 553.90,975.76 554.90,976.62 555.90,977.48 556.90,978.24 557.90,978.91 558.90,979.47 559.90,979.90 560.90,980.19 561.90,980.30 562.90,980.06 563.90,979.28 564.90,978.02 565.90,972.45 566.90,962.03 567.65,952.73 567.90,948.38 568.90,927.16 569.15,924.65 569.90,920.03 570.90,917.30 571.90,919.59 572.90,925.00 573.90,939.81 574.65,952.77 574.90,955.80 575.90,966.83 576.90,974.70 577.90,979.79 578.90,983.94 579.90,987.23 580.90,989.77 581.15,990.30 581.90,991.79 582.90,993.58 583.90,995.18 584.90,996.61 585.90,997.88 586.90,999.02 587.90,1000.05 588.90,1000.99 589.65,1001.64 589.90,1001.86 590.90,1002.65 591.90,1003.41 592.90,1004.15 593.90,1004.86 594.90,1005.52 595.90,1006.15 596.90,1006.73 597.90,1007.26 598.90,1007.79 599.90,1008.28 600.90,1008.74 601.90,1009.15 602.90,1009.52 603.90,1009.86 604.90,1010.16 605.90,1010.44 606.90,1010.69 607.90,1010.91 608.90,1011.12 609.90,1011.32 610.90,1011.50 611.90,1011.67 612.90,1011.84 613.90,1011.99 614.90,1012.15 615.90,1012.30 616.90,1012.46 617.90,1012.61 618.90,1012.76 619.90,1012.92 620.90,1013.08 621.90,1013.24 622.90,1013.40 623.90,1013.56 624.90,1013.71 625.90,1013.87 626.90,1014.02 627.90,1014.17 628.90,1014.31 629.90,1014.43 630.90,1014.52 631.90,1014.58 632.90,1014.67 633.90,1014.91 634.90,1015.01 635.90,1015.06 636.90,1015.09 637.90,1015.09 638.90,1014.33 639.90,1012.29 640.65,1009.87 640.90,1007.44 641.90,981.71 642.40,963.40 642.90,930.96 643.40,900.18 643.90,885.92 644.90,865.60 645.65,860.63 645.90,861.58 646.90,874.94 647.65,888.74 647.90,893.17 648.90,914.70 649.90,939.20 650.90,966.22 651.90,993.44 652.90,1019.94 653.40,1027.10 653.90,1028.89 654.90,1031.17 655.90,1032.47 656.15,1032.74 656.90,1033.56 657.90,1034.60 658.90,1035.54 659.90,1036.35 660.90,1037.00 661.90,1037.45 662.90,1037.68 663.40,1037.70 663.90,1037.54 664.90,1036.82 665.90,1036.00 666.90,1035.60 667.90,1036.02 668.90,1036.98 669.90,1038.01 670.40,1038.40 670.90,1038.72 671.90,1039.34 672.90,1039.95 673.90,1040.53 674.90,1041.08 675.90,1041.61 676.90,1042.12 677.90,1042.59 678.90,1043.03 679.90,1043.44 680.90,1043.82 681.65,1044.08 681.90,1044.17 682.90,1044.50 683.90,1044.82 684.90,1045.13 685.90,1045.44 686.90,1045.74 687.90,1046.03 688.90,1046.32 689.90,1046.59 690.90,1046.86 691.90,1047.11 692.90,1047.35 693.90,1047.59 694.90,1047.81 695.90,1048.01 696.90,1048.21 697.90,1048.39 698.90,1048.56 699.90,1048.72 700.90,1048.85 701.90,1048.96 702.90,1049.07 703.90,1049.17 704.90,1049.27 705.90,1049.36 706.90,1049.46 707.90,1049.55 708.90,1049.65 709.90,1049.74 710.90,1049.83 711.90,1049.91 712.90,1050.00 713.90,1050.08 714.90,1050.16 715.90,1050.23 716.90,1050.31 717.90,1050.38 718.90,1050.45 719.90,1050.52 720.90,1050.58 721.90,1050.64 722.90,1050.70 723.90,1050.76 724.90,1050.81 725.90,1050.86 726.90,1050.90 727.90,1050.95 728.90,1050.99 729.90,1051.02 730.90,1051.05 731.90,1051.08 732.90,1051.11 733.90,1051.13 734.90,1051.14 735.90,1051.16 736.90,1051.17 737.90,1051.17 738.40,1051.18 738.90,1051.18 739.90,1051.18 740.90,1051.18 741.90,1051.17 742.90,1051.16 743.90,1051.16 744.90,1051.14 745.90,1051.13 746.90,1051.12 747.90,1051.10 748.90,1051.09 749.90,1051.07 750.90,1051.05 751.90,1051.03 752.90,1051.01 753.90,1050.98 754.90,1050.96 755.90,1050.94 756.90,1050.91 757.90,1050.89 758.90,1050.86 759.90,1050.83 760.90,1050.81 761.90,1050.78 762.90,1050.75 763.90,1050.72 764.90,1050.69 765.90,1050.65 766.90,1050.62 767.90,1050.58 768.90,1050.53 769.90,1050.49 770.90,1050.44 771.90,1050.39 772.90,1050.33 773.90,1050.27 774.90,1050.21 775.90,1050.15 776.90,1050.08 777.90,1050.02 778.90,1049.95 779.90,1049.87 780.90,1049.80 781.90,1049.73 782.90,1049.65 783.90,1049.57 784.90,1049.49 785.90,1049.41 786.90,1049.33 787.90,1049.25 788.90,1049.17 789.90,1049.09 790.90,1049.01 791.90,1048.94 792.90,1048.86 793.90,1048.78 794.90,1048.71 795.90,1048.63 796.90,1048.56 797.90,1048.49 798.90,1048.42 799.90,1048.35 800.90,1048.29 801.90,1048.22 802.90,1048.17 803.90,1048.11 804.90,1048.06 805.90,1048.01 806.90,1047.96 807.90,1047.92 808.90,1047.88 809.90,1047.85 810.90,1047.82 811.90,1047.79 812.90,1047.77 813.90,1047.76 814.90,1047.75 815.90,1047.75 816.40,1047.75 816.90,1047.75 817.90,1047.75 818.90,1047.77 819.90,1047.79 820.90,1047.81 821.90,1047.84 822.90,1047.87 823.90,1047.91 824.90,1047.96 825.90,1048.01 826.90,1048.06 827.90,1048.12 828.90,1048.18 829.90,1048.24 830.90,1048.30 831.90,1048.37 832.90,1048.44 833.90,1048.52 834.90,1048.59 835.90,1048.66 836.90,1048.74 837.90,1048.82 838.90,1048.90 839.90,1048.97 840.90,1049.05 841.90,1049.13 842.90,1049.21 843.90,1049.29 844.90,1049.36 845.90,1049.45 846.90,1049.53 847.90,1049.61 848.90,1049.70 849.90,1049.79 850.90,1049.88 851.90,1049.98 852.90,1050.08 853.90,1050.18 854.90,1050.29 855.90,1050.39 856.90,1050.50 857.90,1050.61 858.90,1050.72 859.90,1050.83 860.90,1050.93 861.90,1051.04 862.90,1051.14 863.90,1051.24 864.90,1051.33 865.90,1051.42 866.90,1051.48 867.90,1051.53 868.90,1051.60 869.90,1051.73 870.90,1051.80 871.90,1051.84 872.90,1051.87 873.90,1051.89 874.90,1051.90 875.90,1050.33 876.90,1046.38 877.15,1045.15 877.90,1036.80 878.90,1014.22 879.90,987.61 880.65,970.99 880.90,966.50 881.90,946.95 882.90,930.76 883.65,925.72 883.90,925.95 884.90,933.61 885.90,948.29 886.40,956.71 886.90,967.63 887.90,1002.24 888.90,1028.50 889.90,1039.35 890.90,1047.67 891.90,1052.36 892.40,1053.00 892.90,1053.00 893.90,1053.00 894.90,1053.00 895.90,1053.00 896.90,1053.00 897.90,1053.00 898.90,1053.00 899.90,1053.00 900.90,1053.00 901.90,1053.00 902.90,1053.00 903.90,1053.00 904.90,1053.00 905.90,1053.00 906.90,1053.00 907.90,1053.00 908.90,1053.00 909.90,1053.00 910.90,1053.00 911.90,1053.00 912.90,1053.00 913.90,1053.00 914.90,1053.00 915.90,1053.00 916.90,1053.00 917.90,1053.00 918.90,1053.00 919.90,1053.00 920.90,1053.00 921.90,1053.00 922.90,1053.00 923.90,1053.00 924.90,1053.00 925.90,1053.00 926.90,1053.00 927.90,1053.00 928.90,1053.00 929.90,1053.00 930.90,1053.00 931.90,1053.00 932.90,1053.00 933.90,1053.00 934.90,1053.00 935.90,1053.00 936.90,1053.00 937.90,1053.00 938.90,1053.00 939.90,1053.00 940.90,1053.00 941.90,1053.00 942.90,1053.00 943.90,1053.00 944.90,1053.00 945.90,1053.00 946.90,1053.00 947.90,1053.00 948.90,1053.00 949.90,1053.00 950.90,1053.00 951.90,1053.00 952.90,1053.00 953.90,1053.00 954.90,1053.00 955.90,1053.00 956.90,1053.00 957.90,1053.00 958.90,1053.00 959.90,1053.00 960.90,1053.00 961.90,1053.00 962.90,1053.00 963.90,1053.00 964.90,1053.00 965.90,1053.00 966.90,1053.00 967.90,1053.00 968.90,1053.00 969.90,1053.00 970.90,1053.00 971.90,1053.00 972.90,1053.00 973.90,1053.00 974.90,1053.00 975.90,1053.00 976.90,1053.00 977.90,1053.00 978.90,1053.00 979.90,1053.00 980.90,1053.00 981.90,1053.00 982.90,1053.00 983.90,1053.00 984.90,1053.00 985.90,1053.00 986.90,1053.00 987.90,1053.00 988.90,1053.00 989.90,1053.00 990.90,1053.00 991.90,1053.00 992.90,1053.00 993.90,1053.00 994.90,1053.00 995.90,1053.00 996.90,1053.00 997.90,1053.00 998.90,1053.00 999.90,1053.00 1000.90,1053.00 1001.90,1053.00 1002.90,1053.00 1003.90,1053.00 1004.90,1053.00 1005.90,1053.00 1006.90,1053.00 1007.90,1053.00 1008.90,1053.00 1009.90,1053.00 1010.90,1053.00 1011.90,1053.00 1012.90,1053.00 1013.90,1053.00 1014.90,1053.00 1015.90,1053.00 1016.90,1053.00 1017.90,1053.00 1018.90,1053.00 1019.90,1053.00 1020.90,1053.00 1021.90,1053.00 1022.15,1053.00 1022.90,1051.94 1023.90,1048.38 1024.90,1043.58 1025.65,1039.97 1025.90,1038.62 1026.90,1031.31 1027.90,1023.17 1028.90,1017.28 1029.40,1016.14 1029.90,1016.44 1030.90,1019.77 1031.90,1025.29 1032.90,1031.36 1033.65,1035.28 1033.90,1036.41 1034.90,1041.65 1035.90,1047.06 1036.90,1051.29 1037.90,1053.00 1038.90,1053.00 1039.90,1053.00 1040.90,1053.00 1041.90,1053.00 1042.90,1053.00 1043.90,1053.00 1044.90,1053.00 1045.90,1053.00 1046.90,1053.00 1047.90,1053.00 1048.90,1053.00 1049.90,1053.00 1050.90,1053.00 1051.90,1053.00 1052.90,1053.00 1053.90,1053.00 1054.90,1053.00 1055.90,1053.00 1056.90,1053.00 1057.90,1053.00 1058.90,1053.00 1059.90,1053.00 1060.90,1053.00 1061.90,1053.00 1062.90,1053.00 1063.90,1053.00 1064.90,1053.00 1065.90,1053.00 1066.90,1053.00 1067.90,1053.00 1068.90,1053.00 1069.90,1053.00 1070.90,1050.06 1071.90,1042.36 1072.90,1033.93 1073.90,1024.89 1074.90,1016.70 1075.40,1015.74 1075.90,1016.90 1076.90,1022.58 1077.90,1029.58 1078.15,1031.10 1078.90,1036.52 1079.90,1044.84 1080.90,1051.34 1081.65,1053.00 1081.90,1053.00 1082.90,1053.00 1083.90,1053.00 1084.90,1053.00 1085.90,1053.00 1086.90,1053.00 1087.90,1053.00 1088.90,1053.00 1089.90,1053.00 1090.90,1053.00 1091.90,1053.00 1092.90,1053.00 1093.90,1053.00 1094.90,1053.00 1095.90,1053.00 1096.90,1053.00 1097.90,1053.00 1098.90,1053.00 1099.90,1053.00 1100.90,1053.00 1101.90,1053.00 1102.90,1053.00 1103.90,1053.00 1104.90,1053.00 1105.90,1053.00 1106.90,1053.00 1107.90,1053.00 1108.90,1053.00 1109.90,1053.00 1110.90,1053.00 1111.90,1053.00 1112.90,1053.00 1113.90,1053.00 1114.90,1053.00 1115.90,1053.00 1116.90,1053.00 1117.90,1053.00 1118.90,1053.00 1119.90,1053.00 1120.90,1052.99 1121.90,1052.99 1122.90,1052.99 1123.90,1052.99 1124.90,1052.99 1125.90,1052.99 1126.90,1052.99 1127.90,1052.99 1128.90,1052.99 1129.90,1052.99 1130.90,1052.99 1131.90,1052.99 1132.90,1052.99 1133.90,1052.99 1134.90,1052.99 1135.90,1052.99 1136.90,1052.99 1137.90,1052.99 1138.90,1052.98 1139.90,1052.98 1140.90,1052.98 1141.90,1052.98 1142.90,1052.98 1143.90,1052.98 1144.90,1052.98 1145.90,1052.98 1146.90,1052.98 1147.90,1052.98 1148.90,1052.98 1149.90,1052.97 1150.90,1052.97 1151.90,1052.97 1152.90,1052.97 1153.90,1052.97 1154.90,1052.97 1155.90,1052.97 1156.90,1052.97 1157.90,1052.96 1158.90,1052.96 1159.90,1052.96 1160.90,1052.96 1161.90,1052.96 1162.90,1052.96 1163.90,1052.96 1164.90,1052.95 1165.90,1052.95 1166.90,1052.95 1167.90,1052.95 1168.90,1052.95 1169.90,1052.95 1170.90,1052.94 1171.90,1052.94 1172.90,1052.94 1173.90,1052.94 1174.90,1052.94 1175.90,1052.93 1176.90,1052.93 1177.90,1052.93 1178.90,1052.93 1179.90,1052.93 1180.90,1052.92 1181.90,1052.92 1182.90,1052.92 1183.90,1052.92 1184.90,1052.92 1185.90,1052.91 1186.90,1052.91 1187.90,1052.91 1188.90,1052.91 1189.90,1052.90 1190.90,1052.90 1191.90,1052.90 1192.90,1052.89 1193.90,1052.89 1194.90,1052.89 1195.90,1052.89 1196.90,1052.88 1197.90,1052.88 1198.90,1052.88 1199.90,1052.87 1200.90,1052.87 1201.90,1052.87 1202.90,1052.86 1203.90,1052.86 1204.90,1052.86 1205.90,1052.85 1206.90,1052.85 1207.90,1052.85 1208.90,1052.84 1209.90,1052.84 1210.90,1052.84 1211.90,1052.83 1212.90,1052.83 1213.90,1052.82 1214.90,1052.82 1215.90,1052.82 1216.90,1052.81 1217.90,1052.81 1218.90,1052.80 1219.90,1052.80 1220.90,1052.80 1221.90,1052.79 1222.90,1052.79 1223.90,1052.78 1224.90,1052.78 1225.90,1052.77 1226.90,1052.77 1227.90,1052.76 1228.90,1052.76 1229.90,1052.75 1230.90,1052.75 1231.90,1052.74 1232.90,1052.74 1233.90,1052.73 1234.90,1052.73 1235.90,1052.72 1236.90,1052.72 1237.90,1052.71 1238.90,1052.71 1239.90,1052.70 1240.15,1052.69 1240.90,1050.25 1241.90,1043.66 1242.40,1040.63 1242.90,1037.18 1243.90,1030.51 1244.40,1029.30 1244.90,1029.99 1245.90,1033.92 1246.90,1037.80 1247.90,1039.72 1248.65,1041.34 1248.90,1042.25 1249.90,1047.82 1250.90,1052.36 1251.15,1052.69 1251.90,1052.70 1252.90,1052.70 1253.90,1052.70 1254.90,1052.70 1255.90,1052.70 1256.90,1052.70 1257.90,1052.70 1258.90,1052.70 1259.90,1052.70 1260.90,1052.70 1261.90,1052.70 1262.90,1052.70 1263.90,1052.70 1264.90,1052.70 1265.90,1052.70 1266.90,1052.70 1267.90,1052.70 1268.90,1052.70 1269.90,1052.70 1270.90,1052.70 1271.90,1052.70 1272.90,1052.70 1273.90,1052.70 1274.90,1052.70 1275.90,1052.70 1276.90,1052.70 1277.90,1052.70 1278.90,1052.70 1279.90,1052.70 1280.90,1052.70 1281.90,1052.70 1282.90,1052.70 1283.90,1052.70 1284.90,1052.70 1285.90,1052.70 1286.90,1052.70 1287.90,1052.70 1288.90,1052.70 1289.90,1052.70 1290.90,1052.70 1291.90,1052.70 1292.90,1052.70 1293.90,1052.70 1294.90,1052.70 1295.90,1052.70 1296.90,1052.70 1297.90,1052.70 1298.90,1052.70 1299.90,1052.70 1300.90,1052.70 1301.90,1052.70 1302.90,1052.70 1303.90,1052.70 1304.90,1052.70 1305.90,1052.70 1306.90,1052.70 1307.90,1052.70 1308.90,1052.70 1309.90,1052.70 1310.90,1052.70 1311.90,1052.70 1312.90,1052.70 1313.90,1052.70 1314.90,1052.70 1315.90,1052.70 1316.90,1052.70 1317.90,1052.70 1318.90,1052.70 1319.90,1052.70 1320.90,1052.70 1321.90,1052.70 1322.90,1052.70 1323.90,1052.70 1324.90,1052.70 1325.90,1052.70 1326.90,1052.70 1327.90,1052.70 1328.90,1052.70 1329.15,1052.68 1329.90,1049.24 1330.90,1042.20 1331.40,1041.25 1331.90,1042.65 1332.90,1047.20 1333.40,1047.89 1333.90,1047.67 1334.90,1047.11 1335.90,1048.75 1336.90,1051.89 1337.40,1052.67 1337.90,1052.70 1338.90,1052.70 1339.90,1052.69 1340.90,1052.67 1341.90,1052.65 1342.90,1052.62 1343.90,1052.58 1344.90,1052.54 1345.90,1052.49 1346.90,1052.43 1347.90,1052.35 1348.90,1052.27 1349.90,1052.18 1350.90,1052.07 1351.90,1051.96 1352.90,1051.83 1353.90,1051.68 1354.90,1051.53 1355.90,1051.35 1356.15,1051.31 1356.90,1050.62 1357.90,1048.38 1358.90,1045.80 1359.65,1044.43 1359.90,1044.10 1360.90,1042.77 1361.90,1041.70 1362.90,1041.20 1363.90,1041.40 1364.90,1041.98 1365.90,1042.79 1366.90,1043.66 1367.90,1044.43 1368.90,1045.13 1369.90,1045.89 1370.90,1046.68 1371.90,1047.42 1372.90,1048.06 1373.90,1048.55 1374.90,1048.82 1375.90,1048.98 1376.90,1049.12 1377.90,1049.25 1378.90,1049.36 1379.90,1049.46 1380.90,1049.53 1381.90,1049.57 1382.90,1049.60 1383.40,1049.60 1383.90,1049.58 1384.90,1049.45 1385.90,1049.22 1386.90,1048.89 1387.90,1048.47 1388.90,1047.98 1389.90,1047.42 1390.90,1046.80 1391.90,1046.13 1392.90,1045.19 1393.90,1043.84 1394.90,1042.08 1395.90,1039.95 1396.90,1037.44 1397.90,1034.58 1398.40,1033.02 1398.90,1031.12 1399.90,1025.36 1400.90,1018.67 1401.15,1017.08 1401.90,1011.00 1402.90,1006.44 1403.90,1010.65 1404.90,1018.08 1405.40,1021.42 1405.90,1024.70 1406.90,1031.60 1407.90,1037.80 1408.90,1043.69 1409.90,1049.25 1410.90,1052.49 1411.15,1052.69 1411.90,1052.70 1412.90,1052.70 1413.90,1052.70 1414.90,1052.70 1415.90,1052.70 1416.90,1052.70 1417.90,1052.70 1418.90,1052.70 1419.90,1052.70 1420.90,1052.70 1421.90,1052.70 1422.90,1052.70 1423.90,1052.70 1424.90,1052.70 1425.90,1052.70 1426.90,1052.70 1427.90,1052.70 1428.90,1052.70 1429.90,1052.70 1430.90,1052.70 1431.90,1052.70 1432.90,1052.70 1433.90,1052.70 1434.90,1052.70 1435.90,1052.70 1436.90,1052.70 1437.40,1052.70 1437.90,1052.61 1438.90,1051.82 1439.90,1050.64 1440.90,1049.62 1441.65,1049.30 1441.90,1049.30 1442.90,1049.39 1443.90,1049.58 1444.90,1049.85 1445.90,1050.18 1446.90,1050.54 1447.90,1051.30 1448.90,1052.30 1449.90,1052.95 1450.15,1053.00 1450.90,1052.99 1451.90,1052.97 1452.90,1052.92 1453.90,1052.87 1454.90,1052.81 1455.90,1052.76 1456.90,1052.70" fill="none" stroke="#0a56d8" stroke-width="2.9" stroke-linejoin="round" stroke-linecap="round"/>
<line x1="267.10" y1="802.30" x2="267.10" y2="1525.80" stroke="#000" stroke-width="2.9" />
<line x1="265.70" y1="1524.40" x2="1459.00" y2="1524.40" stroke="#000" stroke-width="2.9" />
<line x1="267.10" y1="1524.40" x2="267.10" y2="1536.60" stroke="#000" stroke-width="2.9" />
<line x1="352.13" y1="1524.40" x2="352.13" y2="1530.40" stroke="#000" stroke-width="2.9" />
<line x1="437.16" y1="1524.40" x2="437.16" y2="1536.60" stroke="#000" stroke-width="2.9" />
<line x1="522.19" y1="1524.40" x2="522.19" y2="1530.40" stroke="#000" stroke-width="2.9" />
<line x1="607.22" y1="1524.40" x2="607.22" y2="1536.60" stroke="#000" stroke-width="2.9" />
<line x1="692.25" y1="1524.40" x2="692.25" y2="1530.40" stroke="#000" stroke-width="2.9" />
<line x1="777.28" y1="1524.40" x2="777.28" y2="1536.60" stroke="#000" stroke-width="2.9" />
<line x1="862.31" y1="1524.40" x2="862.31" y2="1530.40" stroke="#000" stroke-width="2.9" />
<line x1="947.34" y1="1524.40" x2="947.34" y2="1536.60" stroke="#000" stroke-width="2.9" />
<line x1="1032.37" y1="1524.40" x2="1032.37" y2="1530.40" stroke="#000" stroke-width="2.9" />
<line x1="1117.40" y1="1524.40" x2="1117.40" y2="1536.60" stroke="#000" stroke-width="2.9" />
<line x1="1202.43" y1="1524.40" x2="1202.43" y2="1530.40" stroke="#000" stroke-width="2.9" />
<line x1="1287.46" y1="1524.40" x2="1287.46" y2="1536.60" stroke="#000" stroke-width="2.9" />
<line x1="1372.49" y1="1524.40" x2="1372.49" y2="1530.40" stroke="#000" stroke-width="2.9" />
<line x1="1457.52" y1="1524.40" x2="1457.52" y2="1536.60" stroke="#000" stroke-width="2.9" />
<text font-family="'Liberation Serif', 'Times New Roman', serif" font-weight="bold" font-size="38.67" fill="#000" transform="matrix(1.1021,0,0,1,244.94,1575.01)">10</text>
<text font-family="'Liberation Serif', 'Times New Roman', serif" font-weight="bold" font-size="38.67" fill="#000" transform="matrix(1.1021,0,0,1,415.85,1575.01)">20</text>
<text font-family="'Liberation Serif', 'Times New Roman', serif" font-weight="bold" font-size="38.67" fill="#000" transform="matrix(1.1021,0,0,1,586.02,1575.01)">30</text>
<text font-family="'Liberation Serif', 'Times New Roman', serif" font-weight="bold" font-size="38.67" fill="#000" transform="matrix(1.1021,0,0,1,756.51,1575.01)">40</text>
<text font-family="'Liberation Serif', 'Times New Roman', serif" font-weight="bold" font-size="38.67" fill="#000" transform="matrix(1.1021,0,0,1,926.03,1575.01)">50</text>
<text font-family="'Liberation Serif', 'Times New Roman', serif" font-weight="bold" font-size="38.67" fill="#000" transform="matrix(1.1021,0,0,1,1096.20,1575.01)">60</text>
<text font-family="'Liberation Serif', 'Times New Roman', serif" font-weight="bold" font-size="38.67" fill="#000" transform="matrix(1.1021,0,0,1,1265.83,1575.01)">70</text>
<text font-family="'Liberation Serif', 'Times New Roman', serif" font-weight="bold" font-size="38.67" fill="#000" transform="matrix(1.1021,0,0,1,1436.32,1575.01)">80</text>
<text font-family="'Liberation Serif', 'Times New Roman', serif" font-weight="bold" font-size="37.50" fill="#000" transform="matrix(1.2209,0,0,1,783.47,1613.15)">2θ (deg)</text>
<text font-family="'Liberation Serif', 'Times New Roman', serif" font-weight="bold" font-size="44.51" fill="#000" transform="matrix(0,-0.8948,1,0,254.93,1286.99)">Intensity (a.u.)</text>
<text font-family="'Liberation Sans', Arial, sans-serif" font-weight="bold" font-size="54.33" fill="#000" transform="matrix(0.7954,0,0,1,354.84,766.39)">(</text>
<text font-family="'Liberation Sans', Arial, sans-serif" font-weight="bold" font-size="54.51" fill="#000" transform="matrix(0.7535,0,0,1,371.36,768.05)">C</text>
<text font-family="'Liberation Sans', Arial, sans-serif" font-weight="bold" font-size="54.33" fill="#000" transform="matrix(0.7621,0,0,1,404.30,766.39)">)</text>
<line x1="533.10" y1="736.10" x2="621.30" y2="736.10" stroke="#0a56d8" stroke-width="2.4" />
<text font-family="'Liberation Serif', 'Times New Roman', serif" font-weight="bold" font-size="33.78" fill="#000" transform="matrix(1.1443,0,0,1,629.42,747.06)">BSA10</text>
<line x1="751.70" y1="736.10" x2="839.80" y2="736.10" stroke="#ec1c20" stroke-width="2.4" />
<text font-family="'Liberation Serif', 'Times New Roman', serif" font-weight="bold" font-size="34.93" fill="#000" transform="matrix(1.1035,0,0,1,848.72,747.65)">BSA5</text>
<line x1="951.40" y1="736.10" x2="1038.90" y2="736.10" stroke="#333333" stroke-width="2.4" />
<text font-family="'Liberation Serif', 'Times New Roman', serif" font-weight="bold" font-size="34.03" fill="#000" transform="matrix(1.1129,0,0,1,1047.43,747.06)">BSA</text>
<text font-family="'Liberation Serif', 'Times New Roman', serif" font-weight="bold" font-size="34.93" fill="#000" transform="matrix(1.1314,0,0,1,312.02,845.76)">*</text>
<text font-family="'Liberation Serif', 'Times New Roman', serif" font-weight="bold" font-size="32.84" fill="#000" transform="matrix(1.1913,0,0,1,341.91,846.38)">AgO</text>
<polygon points="327.90,874.80 337.75,885.30 327.90,895.80 318.05,885.30" fill="#000"/>
<text font-family="'Liberation Serif', 'Times New Roman', serif" font-weight="bold" font-size="33.86" fill="#000" transform="matrix(1.1394,0,0,1,343.41,895.35)">Ag</text>
<text font-family="'Liberation Serif', 'Times New Roman', serif" font-weight="bold" font-size="23.48" fill="#000" transform="matrix(1.1862,0,0,1,390.09,904.60)">2</text>
<text font-family="'Liberation Serif', 'Times New Roman', serif" font-weight="bold" font-size="35.37" fill="#000" transform="matrix(1.1682,0,0,1,402.63,896.05)">O</text>
<polygon points="571.20,772.25 580.85,782.40 571.20,792.55 561.55,782.40" fill="#000"/>
<polygon points="643.90,771.45 653.55,781.60 643.90,791.75 634.25,781.60" fill="#000"/>
<polygon points="882.00,790.35 891.65,800.50 882.00,810.65 872.35,800.50" fill="#000"/>
<polygon points="1075.80,794.05 1085.45,804.20 1075.80,814.35 1066.15,804.20" fill="#000"/>
<polygon points="1245.50,794.45 1255.15,804.60 1245.50,814.75 1235.85,804.60" fill="#000"/>
<polygon points="1337.70,790.25 1347.35,800.40 1337.70,810.55 1328.05,800.40" fill="#000"/>
<polygon points="1367.10,788.15 1376.75,798.30 1367.10,808.45 1357.45,798.30" fill="#000"/>
<polygon points="1402.10,790.05 1411.75,800.20 1402.10,810.35 1392.45,800.20" fill="#000"/>
<text font-family="'Liberation Serif', 'Times New Roman', serif" font-weight="bold" font-size="41.33" fill="#000" transform="matrix(0.9217,0,0,1,562.28,825.03)">*</text>
<text font-family="'Liberation Serif', 'Times New Roman', serif" font-weight="bold" font-size="41.33" fill="#000" transform="matrix(0.9217,0,0,1,635.48,825.53)">*</text>
<text font-family="'Liberation Serif', 'Times New Roman', serif" font-weight="bold" font-size="36.27" fill="#000" transform="matrix(0.9716,0,0,1,1023.19,1016.54)">*</text>
<text font-family="'Liberation Serif', 'Times New Roman', serif" font-weight="bold" font-size="40.00" fill="#000" transform="matrix(0.8929,0,0,1,713.57,991.40)">*</text>
<line x1="713.60" y1="981.00" x2="686.00" y2="1011.50" stroke="#000" stroke-width="1.8" />
<polygon points="674.00,1025.70 682.20,1007.40 690.60,1015.00" fill="#000"/>
<text font-family="'Liberation Serif', 'Times New Roman', serif" font-weight="bold" font-size="35.05" fill="#000" transform="matrix(0,-0.8875,1,0,549.06,888.30)">(110)</text>
<text font-family="'Liberation Serif', 'Times New Roman', serif" font-weight="bold" font-size="34.62" fill="#000" transform="matrix(0,-0.9356,1,0,623.96,889.96)">(111)</text>
<text font-family="'Liberation Serif', 'Times New Roman', serif" font-weight="bold" font-size="33.85" fill="#000" transform="matrix(0,-0.9177,1,0,858.62,888.60)">(211)</text>
<text font-family="'Liberation Serif', 'Times New Roman', serif" font-weight="bold" font-size="34.73" fill="#000" transform="matrix(0,-0.8722,1,0,1112.73,894.56)">(221)</text>
<text font-family="'Liberation Serif', 'Times New Roman', serif" font-weight="bold" font-size="34.62" fill="#000" transform="matrix(0,-0.8736,1,0,1227.56,884.46)">(222)</text>
<text font-family="'Liberation Serif', 'Times New Roman', serif" font-weight="bold" font-size="34.40" fill="#000" transform="matrix(0,-0.8820,1,0,1325.10,893.77)">(321)</text>
<text font-family="'Liberation Serif', 'Times New Roman', serif" font-weight="bold" font-size="34.40" fill="#000" transform="matrix(0,-0.9131,1,0,1378.40,892.01)">(311)</text>
<text font-family="'Liberation Serif', 'Times New Roman', serif" font-weight="bold" font-size="34.40" fill="#000" transform="matrix(0,-0.8890,1,0,1431.20,892.88)">(400)</text>
<line x1="571.20" y1="818.50" x2="571.20" y2="1524.40" stroke="#ff00ff" stroke-width="2.6" stroke-dasharray="6 5"/>
<line x1="645.30" y1="818.50" x2="645.30" y2="1524.40" stroke="#ff00ff" stroke-width="2.6" stroke-dasharray="6 5"/>
<line x1="882.60" y1="818.50" x2="882.60" y2="1524.40" stroke="#ff00ff" stroke-width="2.6" stroke-dasharray="6 5"/>
<line x1="1076.00" y1="818.50" x2="1076.00" y2="1524.40" stroke="#ff00ff" stroke-width="2.6" stroke-dasharray="6 5"/>
<line x1="1244.20" y1="818.50" x2="1244.20" y2="1524.40" stroke="#ff00ff" stroke-width="2.6" stroke-dasharray="6 5"/>
<line x1="1338.00" y1="818.50" x2="1338.00" y2="1524.40" stroke="#ff00ff" stroke-width="2.6" stroke-dasharray="6 5"/>
<line x1="1366.60" y1="818.50" x2="1366.60" y2="1524.40" stroke="#ff00ff" stroke-width="2.6" stroke-dasharray="6 5"/>
<line x1="1403.00" y1="818.50" x2="1403.00" y2="1524.40" stroke="#ff00ff" stroke-width="2.6" stroke-dasharray="6 5"/>
</svg>
</body></html>
